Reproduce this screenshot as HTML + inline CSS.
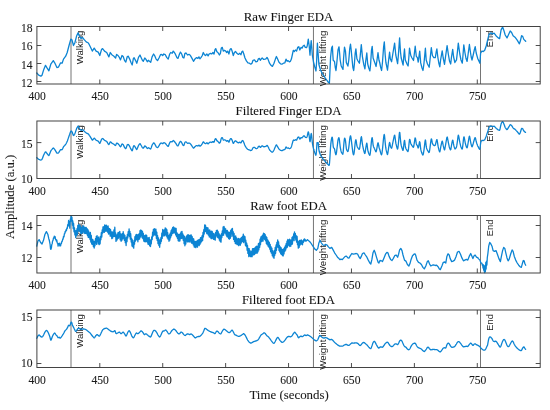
<!DOCTYPE html>
<html lang="en"><head><meta charset="utf-8"><title>EDA signals</title>
<style>html,body{margin:0;padding:0;background:#fff}svg{display:block}</style></head>
<body>
<svg width="550" height="410" viewBox="0 0 550 410">
<rect width="550" height="410" fill="#fff"/>
<g id="axes0">
<line x1="71.00" y1="26.5" x2="71.00" y2="84.0" stroke="#757575" stroke-width="1"/>
<line x1="313.45" y1="26.5" x2="313.45" y2="84.0" stroke="#757575" stroke-width="1"/>
<line x1="480.50" y1="26.5" x2="480.50" y2="84.0" stroke="#757575" stroke-width="1"/>
<g>
<text transform="translate(83.30,30.60) rotate(-90)" text-anchor="end" font-family="Liberation Sans, Arial, sans-serif" font-size="9.55" fill="#1a1a1a">Walking</text>
<text transform="translate(325.75,30.60) rotate(-90)" text-anchor="end" font-family="Liberation Sans, Arial, sans-serif" font-size="9.75" fill="#1a1a1a">Weight lifting</text>
<text transform="translate(492.80,30.60) rotate(-90)" text-anchor="end" font-family="Liberation Sans, Arial, sans-serif" font-size="9.3" fill="#1a1a1a">End</text>
</g>
<polyline points="36.8,73.0 38.7,75.2 40.9,76.2 42.0,75.2 43.8,69.4 45.5,65.3 47.0,67.9 48.9,70.8 50.8,64.2 53.3,60.6 54.7,62.8 56.9,67.6 58.4,67.2 60.6,62.8 62.1,63.2 63.5,59.1 65.7,56.2 67.2,52.5 68.9,46.0 70.8,39.1 71.9,39.8 73.5,45.5 74.8,43.0 76.7,35.7 78.1,32.8 79.6,36.4 81.1,38.6 82.5,37.5 84.0,39.4 86.2,41.9 88.4,43.0 90.3,46.7 92.3,51.1 94.2,48.1 96.1,51.1 98.2,52.1 99.8,55.5 101.5,49.6 102.6,48.6 104.5,51.1 106.7,52.5 108.9,56.9 110.3,52.5 111.8,54.7 114.0,56.2 114.1,56.5 115.6,58.0 116.6,54.4 118.0,55.5 119.5,57.7 120.5,59.9 122.0,55.5 123.2,56.5 124.6,60.6 125.8,62.0 127.3,56.5 128.3,56.2 129.7,59.1 130.9,62.3 132.2,65.0 133.4,58.4 134.1,57.7 135.6,60.6 136.8,63.2 138.5,57.4 140.0,55.0 141.2,57.7 142.5,60.6 143.3,61.3 144.8,58.0 145.8,59.1 147.3,61.8 148.3,60.3 149.5,61.3 150.7,62.3 152.1,56.9 153.6,54.0 154.6,55.5 156.1,59.1 157.5,60.6 159.0,58.0 160.5,54.7 161.5,54.4 162.7,55.5 163.8,54.0 165.3,54.7 166.7,57.4 168.2,59.1 169.7,54.0 170.7,52.5 172.2,53.3 173.2,51.1 174.4,52.5 175.5,54.4 177.0,57.7 178.0,58.4 179.5,54.0 180.5,52.1 181.7,54.0 182.8,57.4 183.9,58.0 184.9,53.3 186.1,53.0 187.5,55.0 189.0,54.4 190.0,55.0 190.6,55.9 192.0,58.4 193.5,61.3 194.9,59.1 196.4,57.7 197.9,58.4 198.9,56.9 199.9,58.8 201.1,57.4 202.3,55.5 203.3,52.5 204.5,54.7 205.5,55.5 206.9,54.0 208.1,55.9 209.1,54.0 210.6,53.3 211.8,54.0 212.8,52.5 214.0,54.0 215.0,49.6 215.7,48.6 216.9,51.8 217.9,52.5 219.4,55.0 220.4,53.3 221.3,48.1 222.3,47.4 223.3,51.1 224.5,50.3 225.7,51.1 226.7,52.5 227.7,51.1 228.9,54.0 230.0,49.6 231.1,48.6 232.1,51.1 233.3,55.5 234.4,52.5 235.5,51.5 236.9,53.3 238.4,54.4 239.8,53.3 240.9,54.7 242.0,51.5 242.8,51.1 243.8,54.0 245.0,58.0 246.4,60.9 247.9,62.8 249.4,63.2 250.8,64.2 252.0,63.2 253.0,60.3 254.5,59.9 255.9,61.8 257.4,61.3 258.4,58.8 259.3,58.4 260.3,60.3 261.3,58.8 262.2,58.0 263.7,59.4 265.0,59.1 265.9,58.8 267.0,57.4 268.0,59.1 269.5,63.2 271.0,65.3 272.4,66.4 273.9,63.5 275.4,59.1 276.4,56.5 277.6,59.1 279.0,62.3 280.5,63.8 281.9,64.2 283.4,63.2 284.9,62.8 286.0,59.1 287.1,61.3 288.1,60.6 289.3,61.8 290.4,61.3 291.4,59.1 292.5,54.0 293.3,50.3 294.4,51.5 295.4,50.0 296.6,51.1 297.7,47.4 298.8,46.7 299.8,50.0 301.0,47.4 302.1,48.1 303.1,46.0 304.2,45.2 305.3,47.4 306.5,47.7 307.2,46.0 308.3,39.1 309.2,46.0 310.0,55.2 310.6,47.0 311.2,40.6 311.8,47.0 312.3,55.0 313.5,62.0 314.8,67.0 316.0,71.0 316.6,62.0 317.0,52.0 317.4,43.2 318.0,52.0 318.9,64.5 320.5,70.0 322.5,74.0 326.0,79.0 328.3,82.3 329.4,83.3 330.0,70.0 330.6,57.0 331.6,48.0 332.4,46.2 332.8,54.0 333.2,60.3 334.5,61.5 335.2,67.0 336.0,70.5 336.8,63.0 338.0,50.0 339.0,46.8 339.6,53.0 340.1,59.5 341.2,66.0 343.0,69.4 343.6,58.0 344.5,47.1 345.5,51.5 346.3,62.5 347.9,66.1 348.8,60.0 349.8,48.0 350.5,44.2 351.2,50.0 351.8,56.6 352.9,67.6 353.7,70.5 354.4,64.0 355.2,53.0 355.9,48.9 356.9,58.8 358.0,61.0 359.4,63.2 360.2,56.0 361.3,44.6 362.4,56.6 363.8,64.7 364.9,68.9 365.6,62.0 366.8,53.0 367.7,64.0 368.8,68.0 369.9,70.9 370.6,64.0 371.5,50.0 372.2,46.4 373.1,58.0 375.0,63.2 376.1,66.5 377.0,60.0 378.0,52.6 379.0,60.3 379.7,62.5 380.6,67.0 381.6,70.5 382.5,62.0 383.6,47.0 384.3,41.8 385.2,55.0 385.9,62.5 387.5,70.2 388.4,62.0 389.6,52.2 390.3,58.8 391.6,61.7 392.8,54.0 394.6,43.1 395.8,55.0 397.6,63.6 398.4,55.0 399.6,37.8 400.5,52.0 401.2,58.0 403.1,65.1 403.8,56.0 404.5,49.0 405.3,60.0 406.8,63.6 408.1,66.0 408.8,58.0 409.5,48.2 410.8,55.5 412.0,58.0 413.5,60.5 414.3,54.0 415.2,46.2 416.3,56.3 417.4,57.7 418.2,62.1 418.9,57.0 419.7,51.1 420.7,62.9 422.0,68.0 423.0,70.5 423.9,64.0 425.4,48.2 426.2,60.0 427.5,64.0 429.2,67.2 430.0,60.0 431.3,47.7 432.4,55.5 433.8,57.7 435.3,57.6 436.2,52.0 436.9,49.0 437.8,57.0 438.8,63.0 439.8,66.8 440.6,60.0 442.2,50.8 443.2,58.0 444.5,64.3 445.5,57.0 447.1,45.6 448.3,54.0 449.5,61.0 450.7,64.0 451.5,57.0 452.7,49.4 453.6,57.0 454.9,62.5 456.5,59.9 457.4,52.0 458.3,43.1 459.8,54.0 461.0,60.0 462.3,63.2 463.0,55.0 463.8,44.9 465.0,53.0 466.0,58.5 467.1,61.4 468.0,55.0 469.4,44.5 470.4,52.0 471.2,57.0 472.0,60.0 473.2,55.0 474.3,50.0 475.2,46.7 476.2,53.0 477.7,58.4 479.0,61.3 479.9,63.2 480.6,53.3 481.8,51.1 483.3,51.5 484.7,50.3 486.2,46.0 487.6,40.1 489.1,34.2 490.9,32.8 492.3,34.0 494.1,33.1 496.0,35.7 498.2,37.9 499.6,38.6 501.1,29.9 502.6,27.1 503.7,29.9 505.2,35.0 507.0,37.9 508.7,34.2 510.2,31.0 511.6,32.5 513.1,35.7 515.0,37.2 517.2,40.1 519.4,43.8 520.4,40.8 521.6,35.7 522.7,36.4 523.8,39.4 525.7,41.3" fill="none" stroke="#0c84d3" stroke-width="1.3" stroke-linejoin="round" stroke-linecap="round"/>
<rect x="36.9" y="26.5" width="503.30" height="57.50" fill="none" stroke="#3a3a3a" stroke-width="0.95"/>
<text x="37.20" y="100.30" text-anchor="middle" font-family="Liberation Serif, 'Times New Roman', serif" stroke="#1a1a1a" stroke-width="0.08" font-size="11.6" fill="#1a1a1a">400</text>
<line x1="99.81" y1="84.0" x2="99.81" y2="79.50" stroke="#3a3a3a" stroke-width="0.9"/>
<line x1="99.81" y1="26.5" x2="99.81" y2="31.00" stroke="#3a3a3a" stroke-width="0.9"/>
<text x="100.11" y="100.30" text-anchor="middle" font-family="Liberation Serif, 'Times New Roman', serif" stroke="#1a1a1a" stroke-width="0.08" font-size="11.6" fill="#1a1a1a">450</text>
<line x1="162.73" y1="84.0" x2="162.73" y2="79.50" stroke="#3a3a3a" stroke-width="0.9"/>
<line x1="162.73" y1="26.5" x2="162.73" y2="31.00" stroke="#3a3a3a" stroke-width="0.9"/>
<text x="163.03" y="100.30" text-anchor="middle" font-family="Liberation Serif, 'Times New Roman', serif" stroke="#1a1a1a" stroke-width="0.08" font-size="11.6" fill="#1a1a1a">500</text>
<line x1="225.64" y1="84.0" x2="225.64" y2="79.50" stroke="#3a3a3a" stroke-width="0.9"/>
<line x1="225.64" y1="26.5" x2="225.64" y2="31.00" stroke="#3a3a3a" stroke-width="0.9"/>
<text x="225.94" y="100.30" text-anchor="middle" font-family="Liberation Serif, 'Times New Roman', serif" stroke="#1a1a1a" stroke-width="0.08" font-size="11.6" fill="#1a1a1a">550</text>
<line x1="288.55" y1="84.0" x2="288.55" y2="79.50" stroke="#3a3a3a" stroke-width="0.9"/>
<line x1="288.55" y1="26.5" x2="288.55" y2="31.00" stroke="#3a3a3a" stroke-width="0.9"/>
<text x="288.85" y="100.30" text-anchor="middle" font-family="Liberation Serif, 'Times New Roman', serif" stroke="#1a1a1a" stroke-width="0.08" font-size="11.6" fill="#1a1a1a">600</text>
<line x1="351.46" y1="84.0" x2="351.46" y2="79.50" stroke="#3a3a3a" stroke-width="0.9"/>
<line x1="351.46" y1="26.5" x2="351.46" y2="31.00" stroke="#3a3a3a" stroke-width="0.9"/>
<text x="351.76" y="100.30" text-anchor="middle" font-family="Liberation Serif, 'Times New Roman', serif" stroke="#1a1a1a" stroke-width="0.08" font-size="11.6" fill="#1a1a1a">650</text>
<line x1="414.38" y1="84.0" x2="414.38" y2="79.50" stroke="#3a3a3a" stroke-width="0.9"/>
<line x1="414.38" y1="26.5" x2="414.38" y2="31.00" stroke="#3a3a3a" stroke-width="0.9"/>
<text x="414.68" y="100.30" text-anchor="middle" font-family="Liberation Serif, 'Times New Roman', serif" stroke="#1a1a1a" stroke-width="0.08" font-size="11.6" fill="#1a1a1a">700</text>
<line x1="477.29" y1="84.0" x2="477.29" y2="79.50" stroke="#3a3a3a" stroke-width="0.9"/>
<line x1="477.29" y1="26.5" x2="477.29" y2="31.00" stroke="#3a3a3a" stroke-width="0.9"/>
<text x="477.59" y="100.30" text-anchor="middle" font-family="Liberation Serif, 'Times New Roman', serif" stroke="#1a1a1a" stroke-width="0.08" font-size="11.6" fill="#1a1a1a">750</text>
<line x1="36.9" y1="81.50" x2="41.40" y2="81.50" stroke="#3a3a3a" stroke-width="0.9"/>
<line x1="540.2" y1="81.50" x2="535.70" y2="81.50" stroke="#3a3a3a" stroke-width="0.9"/>
<text x="32.50" y="86.90" text-anchor="end" font-family="Liberation Serif, 'Times New Roman', serif" stroke="#1a1a1a" stroke-width="0.08" font-size="11.6" fill="#1a1a1a">12</text>
<line x1="36.9" y1="63.50" x2="41.40" y2="63.50" stroke="#3a3a3a" stroke-width="0.9"/>
<line x1="540.2" y1="63.50" x2="535.70" y2="63.50" stroke="#3a3a3a" stroke-width="0.9"/>
<text x="32.50" y="68.50" text-anchor="end" font-family="Liberation Serif, 'Times New Roman', serif" stroke="#1a1a1a" stroke-width="0.08" font-size="11.6" fill="#1a1a1a">14</text>
<line x1="36.9" y1="45.50" x2="41.40" y2="45.50" stroke="#3a3a3a" stroke-width="0.9"/>
<line x1="540.2" y1="45.50" x2="535.70" y2="45.50" stroke="#3a3a3a" stroke-width="0.9"/>
<text x="32.50" y="50.20" text-anchor="end" font-family="Liberation Serif, 'Times New Roman', serif" stroke="#1a1a1a" stroke-width="0.08" font-size="11.6" fill="#1a1a1a">16</text>
<text x="32.50" y="31.90" text-anchor="end" font-family="Liberation Serif, 'Times New Roman', serif" stroke="#1a1a1a" stroke-width="0.08" font-size="11.6" fill="#1a1a1a">18</text>
<text x="288.55" y="21.00" text-anchor="middle" font-family="Liberation Serif, 'Times New Roman', serif" stroke="#1a1a1a" stroke-width="0.08" font-size="12.8" fill="#111">Raw Finger EDA</text>
</g>
<g id="axes1">
<line x1="71.00" y1="121.0" x2="71.00" y2="178.5" stroke="#757575" stroke-width="1"/>
<line x1="313.45" y1="121.0" x2="313.45" y2="178.5" stroke="#757575" stroke-width="1"/>
<line x1="480.50" y1="121.0" x2="480.50" y2="178.5" stroke="#757575" stroke-width="1"/>
<g>
<text transform="translate(83.30,125.10) rotate(-90)" text-anchor="end" font-family="Liberation Sans, Arial, sans-serif" font-size="9.55" fill="#1a1a1a">Walking</text>
<text transform="translate(325.75,125.10) rotate(-90)" text-anchor="end" font-family="Liberation Sans, Arial, sans-serif" font-size="9.75" fill="#1a1a1a">Weight lifting</text>
<text transform="translate(492.80,125.10) rotate(-90)" text-anchor="end" font-family="Liberation Sans, Arial, sans-serif" font-size="9.3" fill="#1a1a1a">End</text>
</g>
<polyline points="36.8,157.7 37.1,157.9 37.4,158.2 37.7,158.4 38.0,158.7 38.3,159.0 38.6,159.2 38.9,159.4 39.2,159.5 39.5,159.6 39.8,159.8 40.1,159.9 40.4,160.0 40.7,160.1 41.0,160.0 41.3,159.9 41.6,159.7 41.9,159.4 42.2,158.9 42.5,158.2 42.8,157.4 43.1,156.6 43.4,155.8 43.7,155.1 44.0,154.4 44.3,153.8 44.6,153.3 44.9,152.7 45.2,152.2 45.5,151.8 45.8,151.9 46.1,152.2 46.4,152.7 46.7,153.1 47.0,153.5 47.3,153.9 47.6,154.3 47.9,154.6 48.2,155.0 48.5,155.3 48.8,155.6 49.1,155.3 49.4,154.6 49.7,153.8 50.0,153.0 50.3,152.2 50.6,151.4 50.9,150.7 51.2,150.3 51.5,149.9 51.8,149.6 52.1,149.2 52.4,148.9 52.7,148.5 53.0,148.2 53.3,148.0 53.6,148.1 53.9,148.5 54.2,148.8 54.5,149.2 54.8,149.6 55.1,150.1 55.4,150.6 55.7,151.1 56.0,151.6 56.3,152.2 56.6,152.7 56.9,153.1 57.2,153.2 57.5,153.2 57.8,153.1 58.1,153.1 58.4,152.9 58.7,152.6 59.0,152.1 59.3,151.6 59.6,151.2 59.9,150.7 60.2,150.2 60.5,149.8 60.8,149.6 61.1,149.6 61.4,149.7 61.7,149.8 62.0,149.7 62.3,149.4 62.6,148.8 62.9,148.1 63.2,147.5 63.5,146.9 63.8,146.4 64.1,146.1 64.4,145.8 64.7,145.5 65.0,145.1 65.3,144.8 65.6,144.5 65.9,144.0 66.2,143.5 66.5,142.9 66.8,142.3 67.1,141.6 67.4,140.9 67.7,140.0 68.0,139.1 68.3,138.3 68.6,137.4 68.9,136.5 69.2,135.6 69.5,134.8 69.8,133.9 70.1,133.0 70.4,132.2 70.7,131.4 71.0,131.1 71.3,131.1 71.6,131.2 71.9,131.6 72.2,132.2 72.5,133.1 72.8,133.9 73.1,134.8 73.4,135.4 73.7,135.5 74.0,135.2 74.3,134.7 74.6,134.3 74.9,133.6 75.2,132.8 75.5,131.9 75.8,131.0 76.1,130.1 76.4,129.2 76.7,128.4 77.0,127.8 77.3,127.3 77.6,126.8 77.9,126.3 78.2,126.1 78.5,126.5 78.8,127.1 79.1,127.7 79.4,128.2 79.7,128.8 80.0,129.2 80.3,129.5 80.6,129.9 80.9,130.2 81.2,130.3 81.5,130.2 81.8,130.1 82.1,129.9 82.4,129.7 82.7,129.8 83.0,130.0 83.3,130.3 83.6,130.6 83.9,130.9 84.2,131.2 84.5,131.5 84.8,131.7 85.1,132.0 85.4,132.3 85.7,132.5 86.0,132.8 86.3,133.0 86.6,133.2 86.9,133.3 87.2,133.4 87.5,133.6 87.8,133.7 88.1,133.8 88.4,134.0 88.7,134.4 89.0,134.8 89.3,135.3 89.6,135.7 89.9,136.2 90.2,136.6 90.5,137.1 90.8,137.6 91.1,138.1 91.4,138.6 91.7,139.2 92.0,139.7 92.3,140.0 92.6,140.0 92.9,139.7 93.2,139.3 93.5,138.9 93.8,138.6 94.1,138.3 94.4,138.2 94.7,138.5 95.0,138.9 95.3,139.2 95.6,139.6 95.9,140.0 96.2,140.2 96.5,140.4 96.8,140.5 97.1,140.7 97.4,140.8 97.7,140.9 98.0,141.0 98.3,141.3 98.6,141.7 98.9,142.2 99.2,142.7 99.5,143.2 99.8,143.4 100.1,143.0 100.4,142.3 100.7,141.5 101.0,140.7 101.3,139.9 101.6,139.3 101.9,138.9 102.2,138.7 102.5,138.5 102.8,138.6 103.1,138.8 103.4,139.1 103.7,139.5 104.0,139.8 104.3,140.1 104.6,140.3 104.9,140.5 105.2,140.7 105.5,140.8 105.8,141.0 106.1,141.1 106.4,141.3 106.7,141.5 107.0,141.9 107.3,142.4 107.6,142.9 107.9,143.3 108.2,143.8 108.5,144.3 108.8,144.6 109.1,144.3 109.4,143.7 109.7,143.0 110.0,142.3 110.3,141.8 110.6,141.8 110.9,142.1 111.2,142.4 111.5,142.8 111.8,143.1 112.1,143.3 112.4,143.5 112.7,143.6 113.0,143.8 113.3,144.0 113.6,144.1 113.9,144.3 114.2,144.6 114.5,144.9 114.8,145.1 115.1,145.3 115.4,145.5 115.7,145.3 116.0,144.6 116.3,143.8 116.6,143.2 116.9,143.1 117.2,143.3 117.5,143.4 117.8,143.6 118.1,143.8 118.4,144.1 118.7,144.5 119.0,144.8 119.3,145.2 119.6,145.6 119.9,146.1 120.2,146.6 120.5,146.9 120.8,146.6 121.1,146.0 121.4,145.3 121.7,144.6 122.0,144.0 122.3,144.0 122.6,144.1 122.9,144.4 123.2,144.7 123.5,145.2 123.8,145.9 124.1,146.5 124.4,147.2 124.7,147.7 125.0,148.1 125.3,148.4 125.6,148.7 125.9,148.5 126.2,147.9 126.5,147.0 126.8,146.1 127.1,145.2 127.4,144.7 127.7,144.5 128.0,144.4 128.3,144.5 128.6,144.8 128.9,145.2 129.2,145.7 129.5,146.2 129.8,146.7 130.1,147.3 130.4,148.0 130.7,148.6 131.0,149.2 131.3,149.7 131.6,150.2 131.9,150.7 132.2,150.8 132.5,150.2 132.8,148.9 133.1,147.6 133.4,146.5 133.7,145.9 134.0,145.7 134.3,145.8 134.6,146.2 134.9,146.6 135.2,147.1 135.5,147.6 135.8,148.1 136.1,148.6 136.4,149.2 136.7,149.5 137.0,149.3 137.3,148.6 137.6,147.8 137.9,147.0 138.2,146.2 138.5,145.5 138.8,145.0 139.1,144.6 139.4,144.2 139.7,143.8 140.0,143.7 140.3,143.9 140.6,144.4 140.9,145.0 141.2,145.5 141.5,146.0 141.8,146.5 142.1,147.1 142.4,147.6 142.7,147.9 143.0,148.1 143.3,148.2 143.6,147.9 143.9,147.5 144.2,146.9 144.5,146.4 144.8,146.0 145.1,146.0 145.4,146.2 145.7,146.5 146.0,146.8 146.3,147.2 146.6,147.7 146.9,148.1 147.2,148.4 147.5,148.5 147.8,148.2 148.1,147.9 148.4,147.7 148.7,147.8 149.0,148.0 149.3,148.2 149.6,148.4 149.9,148.6 150.2,148.8 150.5,149.0 150.8,148.7 151.1,148.0 151.4,147.2 151.7,146.3 152.0,145.4 152.3,144.8 152.6,144.2 152.9,143.8 153.2,143.3 153.5,142.9 153.8,142.9 154.1,143.1 154.4,143.5 154.7,143.9 155.0,144.4 155.3,145.0 155.6,145.6 155.9,146.2 156.2,146.7 156.5,147.0 156.8,147.2 157.1,147.4 157.4,147.6 157.7,147.5 158.0,147.2 158.3,146.8 158.6,146.3 158.9,145.9 159.2,145.4 159.5,144.9 159.8,144.4 160.1,143.9 160.4,143.4 160.7,143.2 161.0,143.1 161.3,143.0 161.6,143.1 161.9,143.2 162.2,143.4 162.5,143.6 162.8,143.6 163.1,143.4 163.4,143.1 163.7,142.8 164.0,142.7 164.3,142.8 164.6,142.9 164.9,143.0 165.2,143.2 165.5,143.5 165.8,143.9 166.1,144.3 166.4,144.7 166.7,145.1 167.0,145.4 167.3,145.7 167.6,146.0 167.9,146.3 168.2,146.4 168.5,145.9 168.8,145.1 169.1,144.3 169.4,143.5 169.7,142.8 170.0,142.3 170.3,141.9 170.6,141.7 170.9,141.6 171.2,141.6 171.5,141.8 171.8,141.9 172.1,141.9 172.4,141.6 172.7,141.2 173.0,140.7 173.3,140.5 173.6,140.7 173.9,141.0 174.2,141.3 174.5,141.6 174.8,142.0 175.1,142.4 175.4,142.8 175.7,143.2 176.0,143.7 176.3,144.2 176.6,144.7 176.9,145.2 177.2,145.6 177.5,145.8 177.8,145.9 178.1,145.8 178.4,145.2 178.7,144.5 179.0,143.8 179.3,143.1 179.6,142.5 179.9,142.0 180.2,141.6 180.5,141.3 180.8,141.5 181.1,141.8 181.4,142.2 181.7,142.7 182.0,143.3 182.3,143.9 182.6,144.6 182.9,145.1 183.2,145.4 183.5,145.5 183.8,145.5 184.1,144.9 184.4,143.9 184.7,142.9 185.0,142.2 185.3,142.0 185.6,141.9 185.9,141.9 186.2,142.0 186.5,142.2 186.8,142.6 187.1,142.9 187.4,143.2 187.7,143.3 188.0,143.3 188.3,143.2 188.6,143.1 188.9,143.0 189.2,143.1 189.5,143.2 189.8,143.3 190.1,143.5 190.4,143.9 190.7,144.2 191.0,144.6 191.3,145.0 191.6,145.4 191.9,145.9 192.2,146.3 192.5,146.8 192.8,147.2 193.1,147.7 193.4,148.1 193.7,148.1 194.0,147.8 194.3,147.5 194.6,147.1 194.9,146.8 195.2,146.5 195.5,146.2 195.8,146.0 196.1,145.8 196.4,145.6 196.7,145.6 197.0,145.7 197.3,145.8 197.6,145.9 197.9,146.0 198.2,145.7 198.5,145.4 198.8,145.2 199.1,145.2 199.4,145.6 199.7,146.0 200.0,146.2 200.3,146.1 200.6,145.8 200.9,145.5 201.2,145.2 201.5,144.8 201.8,144.4 202.1,144.0 202.4,143.5 202.7,142.9 203.0,142.2 203.3,141.8 203.6,141.9 203.9,142.3 204.2,142.7 204.5,143.1 204.8,143.4 205.1,143.5 205.4,143.6 205.7,143.6 206.0,143.4 206.3,143.1 206.6,142.9 206.9,142.8 207.2,142.9 207.5,143.3 207.8,143.7 208.1,143.9 208.4,143.7 208.7,143.3 209.0,142.9 209.3,142.6 209.6,142.4 209.9,142.3 210.2,142.2 210.5,142.1 210.8,142.1 211.1,142.3 211.4,142.4 211.7,142.5 212.0,142.3 212.3,142.1 212.6,141.7 212.9,141.6 213.2,141.8 213.5,142.1 213.8,142.3 214.1,142.1 214.4,141.3 214.7,140.2 215.0,139.4 215.3,138.9 215.6,138.6 215.9,138.8 216.2,139.3 216.5,139.9 216.8,140.5 217.1,140.9 217.4,141.1 217.7,141.3 218.0,141.6 218.3,141.9 218.6,142.3 218.9,142.7 219.2,143.1 219.5,143.2 219.8,142.9 220.1,142.5 220.4,141.9 220.7,140.8 221.0,139.4 221.3,138.3 221.6,137.8 221.9,137.7 222.2,137.6 222.5,138.0 222.8,138.7 223.1,139.5 223.4,140.1 223.7,140.1 224.0,140.0 224.3,139.9 224.6,139.8 224.9,139.9 225.2,140.0 225.5,140.2 225.8,140.4 226.1,140.7 226.4,141.1 226.7,141.3 227.0,141.1 227.3,140.8 227.6,140.6 227.9,140.7 228.2,141.2 228.5,141.8 228.8,142.1 229.1,141.9 229.4,141.2 229.7,140.3 230.0,139.5 230.3,139.0 230.6,138.7 230.9,138.6 231.2,138.6 231.5,139.1 231.8,139.6 232.1,140.3 232.4,141.1 232.7,142.0 233.0,142.8 233.3,143.4 233.6,143.2 233.9,142.6 234.2,142.0 234.5,141.5 234.8,141.2 235.1,141.0 235.4,140.8 235.7,140.9 236.0,141.1 236.3,141.4 236.6,141.7 236.9,141.9 237.2,142.2 237.5,142.4 237.8,142.6 238.1,142.7 238.4,142.8 238.7,142.8 239.0,142.6 239.3,142.4 239.6,142.2 239.9,142.2 240.2,142.4 240.5,142.7 240.8,142.9 241.1,142.7 241.4,142.1 241.7,141.5 242.0,140.9 242.3,140.6 242.6,140.5 242.9,140.6 243.2,141.2 243.5,141.8 243.8,142.5 244.1,143.3 244.4,144.1 244.7,144.9 245.0,145.6 245.3,146.2 245.6,146.7 245.9,147.1 246.2,147.6 246.5,148.0 246.8,148.4 247.1,148.7 247.4,149.0 247.7,149.3 248.0,149.5 248.3,149.6 248.6,149.7 248.9,149.8 249.2,149.8 249.5,150.0 249.8,150.1 250.1,150.3 250.4,150.4 250.7,150.6 251.0,150.5 251.3,150.4 251.6,150.2 251.9,149.9 252.2,149.4 252.5,148.8 252.8,148.2 253.1,147.7 253.4,147.5 253.7,147.4 254.0,147.3 254.3,147.3 254.6,147.4 254.9,147.6 255.2,147.9 255.5,148.2 255.8,148.5 256.1,148.6 256.4,148.6 256.7,148.6 257.0,148.5 257.3,148.3 257.6,148.0 257.9,147.5 258.2,146.9 258.5,146.5 258.8,146.3 259.1,146.2 259.4,146.3 259.7,146.6 260.0,147.0 260.3,147.3 260.6,147.3 260.9,147.0 261.2,146.6 261.5,146.3 261.8,146.1 262.1,145.9 262.4,145.9 262.7,146.1 263.0,146.3 263.3,146.5 263.6,146.7 263.9,146.8 264.2,146.8 264.5,146.7 264.8,146.7 265.1,146.6 265.4,146.5 265.7,146.4 266.0,146.3 266.3,146.0 266.6,145.7 266.9,145.5 267.2,145.5 267.5,145.8 267.8,146.3 268.1,146.7 268.4,147.3 268.7,148.0 269.0,148.7 269.3,149.3 269.6,149.9 269.9,150.3 270.2,150.6 270.5,150.9 270.8,151.2 271.1,151.5 271.4,151.7 271.7,151.9 272.0,152.1 272.3,152.2 272.6,152.1 272.9,151.7 273.2,151.3 273.5,150.8 273.8,150.3 274.1,149.7 274.4,149.0 274.7,148.3 275.0,147.6 275.3,146.9 275.6,146.3 275.9,145.6 276.2,145.1 276.5,144.9 276.8,145.2 277.1,145.8 277.4,146.3 277.7,146.8 278.0,147.3 278.3,147.9 278.6,148.4 278.9,148.9 279.2,149.3 279.5,149.5 279.8,149.8 280.1,150.0 280.4,150.2 280.7,150.4 281.0,150.5 281.3,150.5 281.6,150.6 281.9,150.6 282.2,150.6 282.5,150.4 282.8,150.2 283.1,150.1 283.4,149.9 283.7,149.8 284.0,149.7 284.3,149.7 284.6,149.6 284.9,149.4 285.2,148.8 285.5,148.1 285.8,147.4 286.1,147.0 286.4,147.2 286.7,147.7 287.0,148.1 287.3,148.2 287.6,148.1 287.9,148.0 288.2,147.9 288.5,148.1 288.8,148.3 289.1,148.5 289.4,148.6 289.7,148.6 290.0,148.5 290.3,148.4 290.6,148.1 290.9,147.6 291.2,147.1 291.5,146.4 291.8,145.4 292.1,144.2 292.4,143.1 292.7,142.0 293.0,141.0 293.3,140.2 293.6,140.0 293.9,140.2 294.2,140.4 294.5,140.4 294.8,140.2 295.1,139.9 295.4,139.7 295.7,139.7 296.0,139.9 296.3,140.1 296.6,140.1 296.9,139.6 297.2,138.8 297.5,138.1 297.8,137.5 298.1,137.2 298.4,137.1 298.7,137.0 299.0,137.4 299.3,138.1 299.6,138.8 299.9,139.1 300.2,138.8 300.5,138.3 300.8,137.8 301.1,137.6 301.4,137.6 301.7,137.8 302.0,137.8 302.3,137.7 302.6,137.3 302.9,136.7 303.2,136.3 303.5,136.1 303.8,135.9 304.1,135.8 304.4,136.0 304.7,136.4 305.0,136.8 305.3,137.2 305.6,137.4 305.9,137.5 306.2,137.6 306.5,137.5 306.8,137.1 307.1,136.5 307.4,135.4 307.7,134.0 308.0,132.6 308.3,131.8 308.6,132.5 308.9,134.2 309.2,136.2 309.5,138.6 309.8,141.1 310.1,141.7 310.4,139.8 310.7,136.8 311.0,134.3 311.3,133.5 311.6,135.1 311.9,138.0 312.2,141.3 312.5,143.8 312.8,145.5 313.1,146.9 313.4,148.2 313.7,149.3 314.0,150.3 314.3,151.2 314.6,152.1 314.9,153.0 315.2,153.8 315.5,154.6 315.8,155.2 316.1,154.5 316.4,151.7 316.7,147.3 317.0,142.6 317.3,142.6 317.6,142.6 317.9,142.6 318.2,142.7 318.5,146.0 318.8,149.0 319.1,151.0 319.4,152.1 319.7,152.9 320.0,153.7 320.3,154.5 320.6,155.2 320.9,155.8 321.2,156.3 321.5,156.7 321.8,157.2 322.1,157.7 322.4,158.1 322.7,158.5 323.0,158.9 323.3,159.2 323.6,159.6 323.9,159.9 324.2,160.2 324.5,160.6 324.8,160.9 325.1,161.3 325.4,161.6 325.7,161.9 326.0,162.3 326.3,162.6 326.6,163.0 326.9,163.3 327.2,163.6 327.5,164.0 327.8,164.3 328.1,164.6 328.4,164.9 328.7,165.2 329.0,165.4 329.3,164.9 329.6,162.3 329.9,157.8 330.2,152.6 330.5,147.8 330.8,144.2 331.1,141.7 331.4,139.7 331.7,138.1 332.0,137.2 332.3,137.4 332.6,139.4 332.9,143.1 333.2,146.3 333.5,147.6 333.8,148.0 334.1,148.2 334.4,148.6 334.7,149.7 335.0,151.3 335.3,152.9 335.6,154.1 335.9,154.7 336.2,154.1 336.5,152.3 336.8,150.0 337.1,147.5 337.4,145.0 337.7,142.4 338.0,140.2 338.3,138.9 338.6,138.0 338.9,137.7 339.2,138.6 339.5,140.7 339.8,143.5 340.1,146.1 340.4,148.1 340.7,149.5 341.0,150.9 341.3,152.0 341.6,152.6 341.9,153.0 342.2,153.5 342.5,153.9 342.8,154.2 343.1,152.9 343.4,149.5 343.7,145.6 344.0,142.4 344.3,139.7 344.6,138.2 344.9,138.4 345.2,139.4 345.5,140.9 345.8,143.5 346.1,146.5 346.4,148.9 346.7,149.9 347.0,150.5 347.3,151.0 347.6,151.5 347.9,151.6 348.2,150.7 348.5,149.2 348.8,147.3 349.1,144.9 349.4,142.1 349.7,139.4 350.0,137.4 350.3,136.1 350.6,135.9 350.9,137.2 351.2,139.3 351.5,141.7 351.8,144.2 352.1,146.7 352.4,149.0 352.7,151.3 353.0,153.2 353.3,154.3 353.6,154.8 353.9,154.1 354.2,152.2 354.5,149.7 354.8,146.6 355.1,143.6 355.4,141.3 355.7,139.9 356.0,139.8 356.3,141.4 356.6,143.7 356.9,145.6 357.2,146.7 357.5,147.3 357.8,147.7 358.1,148.2 358.4,148.6 358.7,148.9 359.0,149.3 359.3,149.4 359.6,148.5 359.9,146.6 360.2,144.4 360.5,142.1 360.8,139.6 361.1,137.4 361.4,136.7 361.7,138.2 362.0,140.8 362.3,143.3 362.6,145.2 362.9,146.7 363.2,148.1 363.5,149.5 363.8,150.7 364.1,151.8 364.4,152.7 364.7,153.5 365.0,153.3 365.3,151.6 365.6,149.4 365.9,147.4 366.2,145.6 366.5,143.9 366.8,143.1 367.1,144.5 367.4,147.2 367.7,149.6 368.0,151.1 368.3,152.1 368.6,152.9 368.9,153.7 369.2,154.4 369.5,155.0 369.8,155.3 370.1,154.4 370.4,152.3 370.7,149.5 371.0,146.1 371.3,142.6 371.6,139.7 371.9,138.0 372.2,137.7 372.5,139.4 372.8,142.3 373.1,144.8 373.4,146.2 373.7,147.0 374.0,147.6 374.3,148.3 374.6,148.9 374.9,149.6 375.2,150.2 375.5,150.9 375.8,151.7 376.1,151.8 376.4,150.9 376.7,149.3 377.0,147.6 377.3,145.8 377.6,144.1 377.9,142.8 378.2,142.9 378.5,144.3 378.8,146.0 379.1,147.5 379.4,148.5 379.7,149.3 380.0,150.3 380.3,151.5 380.6,152.6 380.9,153.6 381.2,154.4 381.5,154.8 381.8,154.1 382.1,152.2 382.4,149.9 382.7,147.1 383.0,144.0 383.3,140.8 383.6,137.9 383.9,135.6 384.2,134.5 384.5,135.4 384.8,138.2 385.1,141.6 385.4,144.6 385.7,147.2 386.0,149.2 386.3,150.7 386.6,151.8 386.9,152.9 387.2,154.1 387.5,154.5 387.8,153.4 388.1,151.4 388.4,149.3 388.7,147.3 389.0,145.3 389.3,143.4 389.6,142.4 389.9,143.2 390.2,145.1 390.5,146.5 390.8,147.2 391.1,147.7 391.4,148.2 391.7,148.0 392.0,146.9 392.3,145.4 392.6,143.8 392.9,142.4 393.2,140.9 393.5,139.5 393.8,138.0 394.1,136.6 394.4,135.4 394.7,135.2 395.0,136.8 395.3,139.1 395.6,141.4 395.9,143.4 396.2,144.7 396.5,145.9 396.8,147.0 397.1,148.1 397.4,149.1 397.7,149.0 398.0,147.2 398.3,144.5 398.6,141.5 398.9,138.2 399.2,134.9 399.5,132.4 399.8,132.6 400.1,135.5 400.4,139.0 400.7,141.9 401.0,144.1 401.3,145.7 401.6,146.8 401.9,147.7 402.2,148.6 402.5,149.5 402.8,150.3 403.1,150.4 403.4,148.6 403.7,145.8 404.0,143.0 404.3,140.9 404.6,140.4 404.9,142.5 405.2,145.4 405.5,147.3 405.8,148.2 406.1,148.8 406.4,149.3 406.7,149.9 407.0,150.4 407.3,150.8 407.6,151.3 407.9,151.6 408.2,150.9 408.5,148.9 408.8,146.0 409.1,142.9 409.4,140.2 409.7,139.3 410.0,140.0 410.3,141.4 410.6,142.7 410.9,143.7 411.2,144.4 411.5,144.9 411.8,145.4 412.1,145.8 412.4,146.2 412.7,146.6 413.0,147.0 413.3,147.3 413.6,146.9 413.9,145.5 414.2,143.5 414.5,141.5 414.8,139.5 415.1,138.0 415.4,138.1 415.7,139.7 416.0,141.9 416.3,143.7 416.6,144.6 416.9,145.0 417.2,145.3 417.5,146.0 417.8,147.1 418.1,148.0 418.4,147.7 418.7,146.4 419.0,144.6 419.3,142.9 419.6,141.7 419.9,142.3 420.2,144.6 420.5,147.3 420.8,149.4 421.1,150.7 421.4,151.7 421.7,152.6 422.0,153.4 422.3,154.1 422.6,154.7 422.9,155.0 423.2,154.5 423.5,153.0 423.8,151.2 424.1,149.1 424.4,146.7 424.7,144.2 425.0,141.7 425.3,140.0 425.6,140.6 425.9,143.3 426.2,146.2 426.5,147.9 426.8,148.7 427.1,149.4 427.4,150.1 427.7,150.7 428.0,151.2 428.3,151.6 428.6,152.1 428.9,152.5 429.2,152.4 429.5,151.1 429.8,149.1 430.1,146.9 430.4,144.7 430.7,142.4 431.0,140.2 431.3,138.8 431.6,139.2 431.9,140.7 432.2,142.4 432.5,143.6 432.8,144.2 433.1,144.6 433.4,145.0 433.7,145.3 434.0,145.5 434.3,145.5 434.6,145.5 434.9,145.5 435.2,145.3 435.5,144.5 435.8,143.2 436.1,141.8 436.4,140.6 436.7,139.6 437.0,139.7 437.3,141.2 437.6,143.2 437.9,145.1 438.2,146.7 438.5,148.1 438.8,149.4 439.1,150.5 439.4,151.4 439.7,151.9 440.0,151.3 440.3,149.7 440.6,147.8 440.9,146.2 441.2,144.8 441.5,143.5 441.8,142.1 442.1,141.1 442.4,141.3 442.7,142.7 443.0,144.3 443.3,145.9 443.6,147.1 443.9,148.3 444.2,149.4 444.5,149.9 444.8,149.2 445.1,147.5 445.4,145.8 445.7,144.1 446.0,142.4 446.3,140.7 446.6,139.0 446.9,137.5 447.2,137.0 447.5,137.9 447.8,139.6 448.1,141.2 448.4,142.8 448.7,144.2 449.0,145.6 449.3,147.0 449.6,148.1 449.9,148.8 450.2,149.4 450.5,149.9 450.8,149.6 451.1,148.0 451.4,146.0 451.7,144.3 452.0,142.7 452.3,141.2 452.6,140.2 452.9,140.4 453.2,142.0 453.5,143.9 453.8,145.4 454.1,146.5 454.4,147.5 454.7,148.4 455.0,149.0 455.3,148.9 455.6,148.5 455.9,148.1 456.2,147.7 456.5,147.0 456.8,145.4 457.1,143.4 457.4,141.3 457.7,139.0 458.0,136.7 458.3,135.2 458.6,135.6 458.9,137.2 459.2,138.9 459.5,140.6 459.8,142.2 460.1,143.6 460.4,144.8 460.7,146.0 461.0,147.0 461.3,147.8 461.6,148.4 461.9,149.0 462.2,149.1 462.5,148.0 462.8,145.6 463.1,142.8 463.4,139.9 463.7,137.5 464.0,136.8 464.3,137.8 464.6,139.4 464.9,141.0 465.2,142.5 465.5,143.8 465.8,145.1 466.1,146.1 466.4,146.9 466.7,147.5 467.0,147.8 467.3,147.3 467.6,145.9 467.9,144.2 468.2,142.5 468.5,140.7 468.8,138.9 469.1,137.2 469.4,136.1 469.7,136.8 470.0,138.4 470.3,140.1 470.6,141.8 470.9,143.3 471.2,144.6 471.5,145.7 471.8,146.5 472.1,146.8 472.4,146.2 472.7,145.2 473.0,144.2 473.3,143.2 473.6,142.1 473.9,141.0 474.2,140.0 474.5,139.0 474.8,138.1 475.1,137.6 475.4,137.9 475.7,139.1 476.0,140.6 476.3,141.8 476.6,142.8 476.9,143.7 477.2,144.5 477.5,145.4 477.8,146.1 478.1,146.7 478.4,147.2 478.7,147.8 479.0,148.3 479.3,148.8 479.6,149.3 479.9,149.0 480.2,147.0 480.5,144.2 480.8,142.2 481.1,141.4 481.4,140.9 481.7,140.6 482.0,140.4 482.3,140.4 482.6,140.5 482.9,140.5 483.2,140.6 483.5,140.5 483.8,140.3 484.1,140.1 484.4,140.0 484.7,139.7 485.0,139.1 485.3,138.5 485.6,137.7 485.9,137.0 486.2,136.3 486.5,135.4 486.8,134.4 487.1,133.5 487.4,132.6 487.7,131.6 488.0,130.7 488.3,129.7 488.6,128.8 488.9,127.8 489.2,127.1 489.5,126.8 489.8,126.6 490.1,126.4 490.4,126.2 490.7,126.0 491.0,126.0 491.3,126.1 491.6,126.3 491.9,126.5 492.2,126.6 492.5,126.7 492.8,126.6 493.1,126.5 493.4,126.4 493.7,126.3 494.0,126.2 494.3,126.3 494.6,126.6 494.9,126.9 495.2,127.3 495.5,127.6 495.8,127.9 496.1,128.2 496.4,128.5 496.7,128.7 497.0,128.9 497.3,129.2 497.6,129.4 497.9,129.7 498.2,129.9 498.5,130.0 498.8,130.1 499.1,130.3 499.4,130.4 499.7,130.0 500.0,129.0 500.3,127.6 500.6,126.1 500.9,124.8 501.2,123.7 501.5,123.0 501.8,122.5 502.1,122.0 502.4,121.7 502.7,121.6 503.0,122.0 503.3,122.6 503.6,123.2 503.9,123.9 504.2,124.7 504.5,125.6 504.8,126.4 505.1,127.2 505.4,127.8 505.7,128.2 506.0,128.6 506.3,129.0 506.6,129.4 506.9,129.6 507.2,129.5 507.5,129.1 507.8,128.6 508.1,128.1 508.4,127.6 508.7,127.1 509.0,126.6 509.3,126.1 509.6,125.5 509.9,125.0 510.2,124.7 510.5,124.7 510.8,124.9 511.1,125.2 511.4,125.4 511.7,125.7 512.0,126.2 512.3,126.7 512.6,127.2 512.9,127.7 513.2,128.1 513.5,128.4 513.8,128.6 514.1,128.8 514.4,128.9 514.7,129.1 515.0,129.3 515.3,129.6 515.6,129.9 515.9,130.2 516.2,130.6 516.5,130.9 516.8,131.2 517.1,131.5 517.4,131.9 517.7,132.3 518.0,132.6 518.3,133.0 518.6,133.4 518.9,133.8 519.2,134.2 519.5,134.2 519.8,133.7 520.1,133.0 520.4,132.3 520.7,131.3 521.0,130.3 521.3,129.3 521.6,128.5 521.9,128.3 522.2,128.5 522.5,128.6 522.8,128.9 523.1,129.4 523.4,130.1 523.7,130.7 524.0,131.2 524.3,131.4 524.6,131.7 524.9,131.9 525.2,132.2 525.5,132.4" fill="none" stroke="#0c84d3" stroke-width="1.3" stroke-linejoin="round" stroke-linecap="round"/>
<rect x="36.9" y="121.0" width="503.30" height="57.50" fill="none" stroke="#3a3a3a" stroke-width="0.95"/>
<text x="37.20" y="194.80" text-anchor="middle" font-family="Liberation Serif, 'Times New Roman', serif" stroke="#1a1a1a" stroke-width="0.08" font-size="11.6" fill="#1a1a1a">400</text>
<line x1="99.81" y1="178.5" x2="99.81" y2="174.00" stroke="#3a3a3a" stroke-width="0.9"/>
<line x1="99.81" y1="121.0" x2="99.81" y2="125.50" stroke="#3a3a3a" stroke-width="0.9"/>
<text x="100.11" y="194.80" text-anchor="middle" font-family="Liberation Serif, 'Times New Roman', serif" stroke="#1a1a1a" stroke-width="0.08" font-size="11.6" fill="#1a1a1a">450</text>
<line x1="162.73" y1="178.5" x2="162.73" y2="174.00" stroke="#3a3a3a" stroke-width="0.9"/>
<line x1="162.73" y1="121.0" x2="162.73" y2="125.50" stroke="#3a3a3a" stroke-width="0.9"/>
<text x="163.03" y="194.80" text-anchor="middle" font-family="Liberation Serif, 'Times New Roman', serif" stroke="#1a1a1a" stroke-width="0.08" font-size="11.6" fill="#1a1a1a">500</text>
<line x1="225.64" y1="178.5" x2="225.64" y2="174.00" stroke="#3a3a3a" stroke-width="0.9"/>
<line x1="225.64" y1="121.0" x2="225.64" y2="125.50" stroke="#3a3a3a" stroke-width="0.9"/>
<text x="225.94" y="194.80" text-anchor="middle" font-family="Liberation Serif, 'Times New Roman', serif" stroke="#1a1a1a" stroke-width="0.08" font-size="11.6" fill="#1a1a1a">550</text>
<line x1="288.55" y1="178.5" x2="288.55" y2="174.00" stroke="#3a3a3a" stroke-width="0.9"/>
<line x1="288.55" y1="121.0" x2="288.55" y2="125.50" stroke="#3a3a3a" stroke-width="0.9"/>
<text x="288.85" y="194.80" text-anchor="middle" font-family="Liberation Serif, 'Times New Roman', serif" stroke="#1a1a1a" stroke-width="0.08" font-size="11.6" fill="#1a1a1a">600</text>
<line x1="351.46" y1="178.5" x2="351.46" y2="174.00" stroke="#3a3a3a" stroke-width="0.9"/>
<line x1="351.46" y1="121.0" x2="351.46" y2="125.50" stroke="#3a3a3a" stroke-width="0.9"/>
<text x="351.76" y="194.80" text-anchor="middle" font-family="Liberation Serif, 'Times New Roman', serif" stroke="#1a1a1a" stroke-width="0.08" font-size="11.6" fill="#1a1a1a">650</text>
<line x1="414.38" y1="178.5" x2="414.38" y2="174.00" stroke="#3a3a3a" stroke-width="0.9"/>
<line x1="414.38" y1="121.0" x2="414.38" y2="125.50" stroke="#3a3a3a" stroke-width="0.9"/>
<text x="414.68" y="194.80" text-anchor="middle" font-family="Liberation Serif, 'Times New Roman', serif" stroke="#1a1a1a" stroke-width="0.08" font-size="11.6" fill="#1a1a1a">700</text>
<line x1="477.29" y1="178.5" x2="477.29" y2="174.00" stroke="#3a3a3a" stroke-width="0.9"/>
<line x1="477.29" y1="121.0" x2="477.29" y2="125.50" stroke="#3a3a3a" stroke-width="0.9"/>
<text x="477.59" y="194.80" text-anchor="middle" font-family="Liberation Serif, 'Times New Roman', serif" stroke="#1a1a1a" stroke-width="0.08" font-size="11.6" fill="#1a1a1a">750</text>
<text x="32.50" y="183.10" text-anchor="end" font-family="Liberation Serif, 'Times New Roman', serif" stroke="#1a1a1a" stroke-width="0.08" font-size="11.6" fill="#1a1a1a">10</text>
<line x1="36.9" y1="142.60" x2="41.40" y2="142.60" stroke="#3a3a3a" stroke-width="0.9"/>
<line x1="540.2" y1="142.60" x2="535.70" y2="142.60" stroke="#3a3a3a" stroke-width="0.9"/>
<text x="32.50" y="147.70" text-anchor="end" font-family="Liberation Serif, 'Times New Roman', serif" stroke="#1a1a1a" stroke-width="0.08" font-size="11.6" fill="#1a1a1a">15</text>
<text x="288.55" y="115.20" text-anchor="middle" font-family="Liberation Serif, 'Times New Roman', serif" stroke="#1a1a1a" stroke-width="0.08" font-size="12.8" fill="#111">Filtered Finger EDA</text>
</g>
<g id="axes2">
<line x1="71.00" y1="215.5" x2="71.00" y2="273.0" stroke="#757575" stroke-width="1"/>
<line x1="313.45" y1="215.5" x2="313.45" y2="273.0" stroke="#757575" stroke-width="1"/>
<line x1="480.50" y1="215.5" x2="480.50" y2="273.0" stroke="#757575" stroke-width="1"/>
<g>
<text transform="translate(83.30,219.60) rotate(-90)" text-anchor="end" font-family="Liberation Sans, Arial, sans-serif" font-size="9.55" fill="#1a1a1a">Walking</text>
<text transform="translate(325.75,219.60) rotate(-90)" text-anchor="end" font-family="Liberation Sans, Arial, sans-serif" font-size="9.75" fill="#1a1a1a">Weight lifting</text>
<text transform="translate(492.80,219.60) rotate(-90)" text-anchor="end" font-family="Liberation Sans, Arial, sans-serif" font-size="9.3" fill="#1a1a1a">End</text>
</g>
<polyline points="36.8,246.2 37.9,241.1 39.1,239.6 40.6,242.5 42.0,244.0 43.5,240.3 44.9,234.5 46.4,231.6 47.9,234.5 48.0,235.0 48.4,236.8 48.8,238.7 49.3,240.3 49.7,242.4 50.1,244.5 50.5,248.6 50.9,249.4 51.4,247.8 51.8,244.5 52.2,243.7 52.6,240.9 53.0,240.5 53.5,237.8 53.9,238.4 54.3,236.1 54.7,236.6 55.1,236.7 55.6,239.7 56.0,239.4 56.4,241.2 56.8,240.2 57.2,242.9 57.7,243.2 58.1,246.1 58.5,243.9 58.9,244.5 59.3,243.1 59.8,245.9 60.2,245.3 60.6,245.8 61.0,243.2 61.4,243.6 61.9,241.1 62.3,241.3 62.7,239.0 63.1,239.1 63.5,236.3 64.0,236.8 64.4,233.7 64.8,233.7 65.2,231.3 65.6,231.9 66.1,229.7 66.5,230.5 66.9,227.8 67.3,228.4 67.7,224.7 68.2,226.2 68.6,220.5 69.0,225.3 69.4,221.6 69.8,228.1 70.3,219.0 70.7,221.3 71.1,216.1 71.5,221.1 71.9,217.1 72.4,225.1 72.8,220.9 73.2,228.6 73.6,223.5 74.0,231.8 74.5,227.9 74.9,234.9 75.3,230.6 75.7,237.5 76.1,230.7 76.6,235.3 77.0,228.6 77.4,234.4 77.8,225.4 78.2,231.0 78.7,224.5 79.1,230.5 79.5,225.2 79.9,231.6 80.3,225.8 80.8,233.4 81.2,227.4 81.6,233.6 82.0,227.3 82.4,232.7 82.9,225.9 83.3,231.8 83.7,226.0 84.1,233.2 84.5,227.5 85.0,233.5 85.4,227.3 85.8,233.4 86.2,227.4 86.6,233.8 87.1,228.6 87.5,235.7 87.9,229.6 88.3,237.4 88.7,231.2 89.2,237.7 89.6,233.1 90.0,239.5 90.4,232.5 90.8,242.0 91.3,235.5 91.7,244.0 92.1,239.1 92.5,244.4 92.9,239.6 93.4,246.6 93.8,241.4 94.2,248.0 94.6,241.3 95.0,245.8 95.5,238.7 95.9,243.2 96.3,236.4 96.7,244.4 97.1,235.7 97.6,241.7 98.0,237.7 98.4,243.8 98.8,236.9 99.2,244.6 99.7,239.1 100.1,243.8 100.5,236.3 100.9,239.7 101.3,232.7 101.8,237.0 102.2,229.8 102.6,233.1 103.0,226.9 103.4,232.1 103.9,226.6 104.3,232.4 104.7,225.0 105.1,231.3 105.5,225.3 106.0,231.0 106.4,225.1 106.8,231.1 107.2,226.4 107.6,232.1 108.1,226.0 108.5,234.0 108.9,228.3 109.3,233.8 109.7,228.7 110.2,236.1 110.6,229.7 111.0,236.0 111.4,231.8 111.8,238.7 112.3,231.9 112.7,238.0 113.1,232.3 113.5,236.3 113.9,230.0 114.4,236.4 114.8,227.2 115.2,236.6 115.6,233.0 116.0,241.4 116.5,235.3 116.9,240.2 117.3,234.2 117.7,238.8 118.1,232.4 118.6,238.2 119.0,232.3 119.4,236.8 119.8,231.4 120.2,239.8 120.7,234.0 121.1,241.3 121.5,234.3 121.9,240.3 122.3,233.6 122.8,238.9 123.2,231.6 123.6,238.0 124.0,234.2 124.4,240.3 124.9,235.5 125.3,242.7 125.7,238.5 126.1,245.5 126.5,237.1 127.0,241.6 127.4,234.3 127.8,237.9 128.2,231.6 128.6,235.6 129.1,228.8 129.5,236.5 129.9,231.3 130.3,239.1 130.7,233.7 131.2,242.0 131.6,238.4 132.0,246.0 132.4,239.9 132.8,246.8 133.3,242.7 133.7,248.1 134.1,240.5 134.5,244.2 134.9,236.7 135.4,241.1 135.8,235.0 136.2,239.5 136.6,234.3 137.0,239.9 137.5,235.2 137.9,241.8 138.3,234.3 138.7,239.3 139.1,233.8 139.6,239.0 140.0,230.6 140.4,237.0 140.8,230.0 141.2,235.9 141.7,230.7 142.1,237.7 142.5,231.5 142.9,238.7 143.3,233.4 143.8,241.1 144.2,235.8 144.6,241.7 145.0,235.4 145.4,241.8 145.9,234.8 146.3,241.3 146.7,235.5 147.1,242.0 147.5,237.8 148.0,244.1 148.4,237.8 148.8,244.4 149.2,237.4 149.6,245.8 150.1,239.8 150.5,246.5 150.9,239.8 151.3,243.8 151.7,236.8 152.2,239.5 152.6,232.1 153.0,236.3 153.4,229.4 153.8,235.2 154.3,228.7 154.7,234.8 155.1,229.1 155.5,235.2 155.9,229.1 156.4,238.4 156.8,232.1 157.2,240.4 157.6,235.6 158.0,243.6 158.5,237.8 158.9,245.5 159.3,241.0 159.7,247.3 160.1,239.5 160.6,243.5 161.0,237.4 161.4,241.3 161.8,233.2 162.2,238.4 162.7,229.5 163.1,235.2 163.5,230.5 163.9,236.1 164.3,230.0 164.8,235.4 165.2,227.8 165.6,234.6 166.0,228.3 166.4,236.1 166.9,229.7 167.3,237.9 167.7,232.6 168.1,239.2 168.5,235.7 169.0,241.3 169.4,234.8 169.8,240.1 170.2,233.2 170.6,237.8 171.1,230.7 171.5,235.7 171.9,229.1 172.3,233.6 172.7,227.3 173.2,233.1 173.6,227.0 174.0,232.6 174.4,228.0 174.8,233.0 175.3,228.2 175.7,234.9 176.1,228.3 176.5,236.5 176.9,232.6 177.4,238.3 177.8,233.9 178.2,240.7 178.6,234.6 179.0,241.3 179.5,234.6 179.9,240.9 180.3,233.5 180.7,238.6 181.1,232.0 181.6,238.4 182.0,231.3 182.4,238.1 182.8,233.8 183.2,240.3 183.7,235.4 184.1,243.7 184.5,236.7 184.9,245.8 185.3,238.4 185.8,244.0 186.2,236.7 186.6,240.8 187.0,235.4 187.4,241.9 187.9,234.7 188.3,241.8 188.7,234.8 189.1,241.7 189.5,235.7 190.0,242.2 190.4,235.2 190.8,240.9 191.2,235.0 191.6,243.2 192.1,236.3 192.5,243.3 192.9,238.3 193.3,244.9 193.7,238.8 194.2,247.0 194.6,241.4 195.0,247.2 195.4,241.4 195.8,247.7 196.3,241.7 196.7,246.7 197.1,240.7 197.5,247.1 197.9,240.1 198.4,245.0 198.8,239.7 199.2,245.7 199.6,239.5 200.0,244.3 200.5,237.7 200.9,242.8 201.3,237.5 201.7,241.3 202.1,235.7 202.6,240.6 203.0,232.3 203.4,236.9 203.8,229.6 204.2,234.0 204.7,224.8 205.1,231.3 205.5,225.2 205.9,231.8 206.3,227.3 206.8,233.6 207.2,227.6 207.6,233.9 208.0,228.0 208.4,235.2 208.9,230.3 209.3,236.9 209.7,229.9 210.1,237.2 210.5,231.4 211.0,238.5 211.4,231.1 211.8,238.6 212.2,231.4 212.6,238.1 213.1,233.3 213.5,239.3 213.9,233.5 214.3,239.3 214.7,235.2 215.2,240.2 215.6,232.6 216.0,236.9 216.4,230.3 216.8,235.6 217.3,230.1 217.7,237.5 218.1,231.5 218.5,238.0 218.9,233.3 219.4,240.1 219.8,235.0 220.2,241.5 220.6,235.4 221.0,242.2 221.5,233.6 221.9,237.5 222.3,230.8 222.7,235.4 223.1,227.0 223.6,235.1 224.0,226.3 224.4,232.9 224.8,228.2 225.2,233.1 225.7,228.9 226.1,235.0 226.5,230.6 226.9,236.6 227.3,230.3 227.8,237.2 228.2,231.8 228.6,238.5 229.0,232.6 229.4,239.1 229.9,232.2 230.3,238.3 230.7,230.5 231.1,236.5 231.5,229.2 232.0,233.5 232.4,228.4 232.8,236.1 233.2,231.6 233.6,239.4 234.1,233.5 234.5,241.4 234.9,236.9 235.3,243.5 235.7,235.8 236.2,243.5 236.6,237.8 237.0,244.5 237.4,239.3 237.8,244.7 238.3,238.4 238.7,245.6 239.1,238.8 239.5,244.9 239.9,239.0 240.4,245.1 240.8,238.2 241.2,243.1 241.6,237.5 242.0,241.9 242.5,236.5 242.9,241.4 243.3,234.1 243.7,242.6 244.1,235.8 244.6,241.2 245.0,236.7 245.4,245.3 245.8,240.1 246.2,246.4 246.7,243.1 247.1,250.3 247.5,245.3 247.9,253.4 248.3,248.3 248.8,256.6 249.2,248.6 249.6,255.8 250.0,250.6 250.4,256.5 250.9,251.8 251.3,256.5 251.7,251.1 252.1,256.7 252.5,248.7 253.0,254.8 253.4,248.7 253.8,254.9 254.2,248.4 254.6,254.4 255.1,247.7 255.5,253.3 255.9,246.6 256.3,253.2 256.7,246.2 257.2,253.2 257.6,246.5 258.0,251.8 258.4,243.6 258.8,249.9 259.3,242.9 259.7,247.3 260.1,239.1 260.5,244.7 260.9,236.9 261.4,241.7 261.8,236.2 262.2,241.2 262.6,235.2 263.0,241.2 263.5,233.1 263.9,238.7 264.3,233.6 264.7,239.5 265.1,234.4 265.6,240.8 266.0,236.5 266.4,243.6 266.8,237.4 267.2,244.6 267.7,239.9 268.1,246.2 268.5,241.2 268.9,247.1 269.3,242.4 269.8,249.2 270.2,244.3 270.6,251.6 271.0,246.6 271.4,253.1 271.9,248.1 272.3,255.6 272.7,250.7 273.1,257.0 273.5,252.2 274.0,258.3 274.4,250.4 274.8,255.3 275.2,247.4 275.6,253.3 276.1,244.8 276.5,250.3 276.9,242.3 277.3,247.0 277.7,239.9 278.2,247.3 278.6,241.9 279.0,250.5 279.4,245.4 279.8,252.0 280.3,246.8 280.7,253.8 281.1,247.7 281.5,254.4 281.9,249.3 282.4,255.6 282.8,249.4 283.2,255.9 283.6,248.9 284.0,253.9 284.5,247.5 284.9,251.3 285.3,245.9 285.7,250.0 286.1,243.7 286.6,247.9 287.0,241.1 287.4,247.2 287.8,239.5 288.2,245.2 288.7,240.2 289.1,245.8 289.5,239.2 289.9,246.5 290.3,239.8 290.8,246.1 291.2,240.1 291.6,244.4 292.0,237.5 292.4,244.0 292.9,236.5 293.3,239.8 293.7,233.8 294.1,240.6 294.5,231.9 295.0,237.7 295.4,233.7 295.8,240.0 296.2,235.7 296.6,242.1 297.1,236.5 297.5,244.6 297.9,241.0 298.3,248.2 298.7,241.8 299.2,247.3 299.6,240.3 300.0,245.1 300.4,240.4 300.8,244.2 301.3,239.8 301.7,244.1 302.1,241.3 302.5,244.8 302.9,240.7 303.4,242.4 303.8,239.5 304.2,241.1 304.6,238.9 305.0,240.7 305.5,240.0 305.9,241.3 306.3,240.6 306.7,240.5 307.5,239.6 309.0,241.1 310.5,242.5 311.9,244.7 313.4,246.9 314.8,249.1 316.3,250.3 317.8,248.4 318.8,243.3 320.0,240.3 321.1,242.5 322.6,244.7 324.1,245.5 325.5,244.4 327.0,245.0 328.4,246.9 329.9,248.4 331.7,247.4 333.1,249.9 334.6,252.8 336.1,255.0 337.5,257.2 339.0,258.6 340.0,259.7 340.9,259.1 342.3,259.7 343.8,257.9 345.2,256.4 346.4,256.1 347.9,257.9 348.9,258.2 350.4,255.7 351.8,253.5 353.3,254.2 354.7,253.8 356.2,253.5 357.7,254.2 359.1,257.2 360.2,258.6 361.3,256.4 362.5,253.5 364.0,252.8 365.4,255.0 366.9,257.2 368.3,260.1 369.8,263.0 370.8,264.0 371.9,259.4 373.0,252.8 374.2,250.3 375.2,252.8 376.7,257.9 378.1,262.3 378.9,263.0 380.0,260.5 381.5,260.8 382.5,261.6 384.0,257.9 385.5,254.2 386.9,252.3 387.9,252.8 389.1,256.4 390.6,259.4 392.0,260.5 393.2,258.6 394.7,255.7 396.1,255.0 397.6,257.2 398.6,254.2 399.6,249.9 400.8,248.4 402.0,250.6 403.0,255.0 404.5,260.1 405.9,261.1 407.4,264.5 408.9,266.0 409.9,263.8 411.1,259.4 412.5,255.7 414.0,254.2 415.0,253.8 415.6,255.0 417.0,260.1 418.5,262.3 419.9,263.0 421.4,264.5 422.9,267.4 424.3,268.9 425.8,266.0 427.3,261.6 428.3,260.8 429.5,263.8 430.8,266.0 432.2,265.2 433.7,264.9 435.2,265.5 436.6,265.2 438.1,266.7 439.3,268.9 440.4,269.6 441.9,266.0 443.3,262.3 444.8,262.0 445.8,263.0 446.9,256.4 448.0,253.8 449.2,255.0 450.2,258.6 451.7,261.6 453.1,261.1 454.6,260.1 456.1,256.4 457.5,252.0 459.0,251.3 460.5,254.2 461.9,257.9 463.4,260.8 464.8,260.1 466.3,259.4 467.8,260.1 469.2,256.4 470.7,253.5 471.7,255.7 472.9,258.6 474.1,255.7 475.1,255.0 476.5,257.2 478.0,257.9 478.4,258.6 479.9,260.1 480.9,263.0 481.8,263.2 482.3,265.2 482.6,264.3 483.0,268.0 483.3,264.8 483.7,270.2 484.0,265.3 484.4,272.2 484.8,272.7 485.1,266.0 485.4,271.5 485.8,262.5 486.1,269.0 486.5,261.2 486.9,265.0 487.3,257.5 487.9,253.5 488.7,246.2 489.7,242.5 490.9,244.0 492.0,246.2 493.1,250.6 494.5,251.3 496.0,250.6 497.4,254.2 498.9,258.6 500.4,261.6 501.4,256.4 502.6,250.6 503.7,247.4 504.8,248.4 505.8,252.8 507.0,257.9 508.1,260.8 509.1,259.4 510.6,254.2 512.1,249.9 513.1,251.3 514.3,256.4 515.7,260.1 517.2,263.0 518.7,265.2 520.1,266.7 521.3,267.4 522.3,263.8 523.3,260.5 524.2,260.8 524.9,263.8 525.7,265.2" fill="none" stroke="#0c84d3" stroke-width="1.3" stroke-linejoin="round" stroke-linecap="round"/>
<rect x="36.9" y="215.5" width="503.30" height="57.50" fill="none" stroke="#3a3a3a" stroke-width="0.95"/>
<text x="37.20" y="289.30" text-anchor="middle" font-family="Liberation Serif, 'Times New Roman', serif" stroke="#1a1a1a" stroke-width="0.08" font-size="11.6" fill="#1a1a1a">400</text>
<line x1="99.81" y1="273.0" x2="99.81" y2="268.50" stroke="#3a3a3a" stroke-width="0.9"/>
<line x1="99.81" y1="215.5" x2="99.81" y2="220.00" stroke="#3a3a3a" stroke-width="0.9"/>
<text x="100.11" y="289.30" text-anchor="middle" font-family="Liberation Serif, 'Times New Roman', serif" stroke="#1a1a1a" stroke-width="0.08" font-size="11.6" fill="#1a1a1a">450</text>
<line x1="162.73" y1="273.0" x2="162.73" y2="268.50" stroke="#3a3a3a" stroke-width="0.9"/>
<line x1="162.73" y1="215.5" x2="162.73" y2="220.00" stroke="#3a3a3a" stroke-width="0.9"/>
<text x="163.03" y="289.30" text-anchor="middle" font-family="Liberation Serif, 'Times New Roman', serif" stroke="#1a1a1a" stroke-width="0.08" font-size="11.6" fill="#1a1a1a">500</text>
<line x1="225.64" y1="273.0" x2="225.64" y2="268.50" stroke="#3a3a3a" stroke-width="0.9"/>
<line x1="225.64" y1="215.5" x2="225.64" y2="220.00" stroke="#3a3a3a" stroke-width="0.9"/>
<text x="225.94" y="289.30" text-anchor="middle" font-family="Liberation Serif, 'Times New Roman', serif" stroke="#1a1a1a" stroke-width="0.08" font-size="11.6" fill="#1a1a1a">550</text>
<line x1="288.55" y1="273.0" x2="288.55" y2="268.50" stroke="#3a3a3a" stroke-width="0.9"/>
<line x1="288.55" y1="215.5" x2="288.55" y2="220.00" stroke="#3a3a3a" stroke-width="0.9"/>
<text x="288.85" y="289.30" text-anchor="middle" font-family="Liberation Serif, 'Times New Roman', serif" stroke="#1a1a1a" stroke-width="0.08" font-size="11.6" fill="#1a1a1a">600</text>
<line x1="351.46" y1="273.0" x2="351.46" y2="268.50" stroke="#3a3a3a" stroke-width="0.9"/>
<line x1="351.46" y1="215.5" x2="351.46" y2="220.00" stroke="#3a3a3a" stroke-width="0.9"/>
<text x="351.76" y="289.30" text-anchor="middle" font-family="Liberation Serif, 'Times New Roman', serif" stroke="#1a1a1a" stroke-width="0.08" font-size="11.6" fill="#1a1a1a">650</text>
<line x1="414.38" y1="273.0" x2="414.38" y2="268.50" stroke="#3a3a3a" stroke-width="0.9"/>
<line x1="414.38" y1="215.5" x2="414.38" y2="220.00" stroke="#3a3a3a" stroke-width="0.9"/>
<text x="414.68" y="289.30" text-anchor="middle" font-family="Liberation Serif, 'Times New Roman', serif" stroke="#1a1a1a" stroke-width="0.08" font-size="11.6" fill="#1a1a1a">700</text>
<line x1="477.29" y1="273.0" x2="477.29" y2="268.50" stroke="#3a3a3a" stroke-width="0.9"/>
<line x1="477.29" y1="215.5" x2="477.29" y2="220.00" stroke="#3a3a3a" stroke-width="0.9"/>
<text x="477.59" y="289.30" text-anchor="middle" font-family="Liberation Serif, 'Times New Roman', serif" stroke="#1a1a1a" stroke-width="0.08" font-size="11.6" fill="#1a1a1a">750</text>
<line x1="36.9" y1="257.50" x2="41.40" y2="257.50" stroke="#3a3a3a" stroke-width="0.9"/>
<line x1="540.2" y1="257.50" x2="535.70" y2="257.50" stroke="#3a3a3a" stroke-width="0.9"/>
<text x="32.50" y="262.10" text-anchor="end" font-family="Liberation Serif, 'Times New Roman', serif" stroke="#1a1a1a" stroke-width="0.08" font-size="11.6" fill="#1a1a1a">12</text>
<line x1="36.9" y1="225.50" x2="41.40" y2="225.50" stroke="#3a3a3a" stroke-width="0.9"/>
<line x1="540.2" y1="225.50" x2="535.70" y2="225.50" stroke="#3a3a3a" stroke-width="0.9"/>
<text x="32.50" y="230.00" text-anchor="end" font-family="Liberation Serif, 'Times New Roman', serif" stroke="#1a1a1a" stroke-width="0.08" font-size="11.6" fill="#1a1a1a">14</text>
<text x="288.55" y="209.70" text-anchor="middle" font-family="Liberation Serif, 'Times New Roman', serif" stroke="#1a1a1a" stroke-width="0.08" font-size="12.8" fill="#111">Raw foot EDA</text>
</g>
<g id="axes3">
<line x1="71.00" y1="310.0" x2="71.00" y2="367.5" stroke="#757575" stroke-width="1"/>
<line x1="313.45" y1="310.0" x2="313.45" y2="367.5" stroke="#757575" stroke-width="1"/>
<line x1="480.50" y1="310.0" x2="480.50" y2="367.5" stroke="#757575" stroke-width="1"/>
<g>
<text transform="translate(83.30,314.10) rotate(-90)" text-anchor="end" font-family="Liberation Sans, Arial, sans-serif" font-size="9.55" fill="#1a1a1a">Walking</text>
<text transform="translate(325.75,314.10) rotate(-90)" text-anchor="end" font-family="Liberation Sans, Arial, sans-serif" font-size="9.75" fill="#1a1a1a">Weight lifting</text>
<text transform="translate(492.80,314.10) rotate(-90)" text-anchor="end" font-family="Liberation Sans, Arial, sans-serif" font-size="9.3" fill="#1a1a1a">End</text>
</g>
<polyline points="36.8,338.3 37.2,337.6 37.6,336.6 38.0,335.8 38.4,335.3 38.8,335.1 39.2,335.0 39.6,335.3 40.0,335.8 40.4,336.2 40.8,336.6 41.2,336.8 41.6,337.1 42.0,337.1 42.4,336.8 42.8,336.3 43.2,335.7 43.6,335.0 44.0,334.1 44.4,333.2 44.8,332.4 45.2,331.7 45.6,331.2 46.0,330.7 46.4,330.4 46.8,330.6 47.2,331.0 47.6,331.5 48.0,332.2 48.4,333.1 48.8,334.0 49.2,335.0 49.6,336.0 50.0,337.3 50.4,339.0 50.8,340.2 51.2,339.9 51.6,338.7 52.0,337.5 52.4,336.5 52.8,335.6 53.2,334.8 53.6,334.1 54.0,333.6 54.4,333.2 54.8,333.0 55.2,333.6 55.6,334.3 56.0,334.9 56.4,335.2 56.8,335.6 57.2,336.2 57.6,337.0 58.0,337.6 58.4,337.7 58.8,337.4 59.2,337.2 59.6,337.6 60.0,338.1 60.4,338.2 60.8,337.7 61.2,337.2 61.6,336.6 62.0,336.0 62.4,335.4 62.8,334.7 63.2,334.1 63.6,333.4 64.0,332.7 64.4,331.9 64.8,331.1 65.2,330.5 65.6,330.1 66.0,329.8 66.4,329.4 66.8,328.8 67.2,328.2 67.6,327.4 68.0,326.4 68.4,325.5 68.8,325.2 69.2,325.5 69.6,325.8 70.0,325.4 70.4,324.2 70.8,322.8 71.2,322.1 71.6,322.3 72.0,323.5 72.4,325.0 72.8,325.9 73.2,326.6 73.6,327.4 74.0,328.2 74.4,329.1 74.8,329.9 75.2,330.8 75.6,331.4 76.0,331.4 76.4,331.0 76.8,330.4 77.2,329.6 77.6,328.9 78.0,328.5 78.4,328.3 78.8,328.2 79.2,328.3 79.6,328.5 80.0,328.7 80.4,328.9 80.8,329.1 81.2,329.3 81.6,329.3 82.0,329.2 82.4,329.1 82.8,329.0 83.2,329.0 83.6,329.0 84.0,329.1 84.4,329.1 84.8,329.2 85.2,329.3 85.6,329.5 86.0,329.7 86.4,330.0 86.8,330.3 87.2,330.6 87.6,331.0 88.0,331.3 88.4,331.6 88.8,331.9 89.2,332.2 89.6,332.5 90.0,332.9 90.4,333.4 90.8,333.9 91.2,334.5 91.6,335.0 92.0,335.5 92.4,336.0 92.8,336.5 93.2,336.9 93.6,337.4 94.0,337.8 94.4,337.8 94.8,337.3 95.2,336.6 95.6,336.0 96.0,335.5 96.4,335.1 96.8,334.7 97.2,334.6 97.6,334.8 98.0,335.2 98.4,335.5 98.8,335.9 99.2,336.2 99.6,335.9 100.0,335.3 100.4,334.5 100.8,333.7 101.2,332.8 101.6,332.0 102.0,331.1 102.4,330.3 102.8,329.7 103.2,329.4 103.6,329.1 104.0,328.8 104.4,328.6 104.8,328.5 105.2,328.4 105.6,328.3 106.0,328.2 106.4,328.2 106.8,328.2 107.2,328.5 107.6,328.8 108.0,329.1 108.4,329.4 108.8,329.7 109.2,330.0 109.6,330.3 110.0,330.6 110.4,330.9 110.8,331.2 111.2,331.4 111.6,331.5 112.0,331.6 112.4,331.7 112.8,331.8 113.2,331.8 113.6,331.5 114.0,331.2 114.4,330.8 114.8,330.6 115.2,331.2 115.6,332.5 116.0,333.5 116.4,333.7 116.8,333.5 117.2,333.2 117.6,333.0 118.0,332.8 118.4,332.5 118.8,332.3 119.2,332.1 119.6,332.1 120.0,332.5 120.4,333.1 120.8,333.6 121.2,333.7 121.6,333.4 122.0,333.0 122.4,332.6 122.8,332.3 123.2,332.1 123.6,332.4 124.0,333.0 124.4,333.6 124.8,334.2 125.2,334.9 125.6,335.6 126.0,336.0 126.4,335.7 126.8,334.8 127.2,333.7 127.6,332.8 128.0,332.0 128.4,331.3 128.8,330.8 129.2,330.7 129.6,331.1 130.0,331.8 130.4,332.6 130.8,333.5 131.2,334.5 131.6,335.5 132.0,336.4 132.4,337.0 132.8,337.4 133.2,337.8 133.6,337.7 134.0,337.1 134.4,336.3 134.8,335.5 135.2,334.7 135.6,334.0 136.0,333.4 136.4,333.0 136.8,333.1 137.2,333.4 137.6,333.7 138.0,333.7 138.4,333.5 138.8,333.1 139.2,332.8 139.6,332.3 140.0,331.9 140.4,331.4 140.8,331.0 141.2,330.9 141.6,331.1 142.0,331.4 142.4,331.8 142.8,332.3 143.2,332.9 143.6,333.6 144.0,334.2 144.4,334.6 144.8,334.5 145.2,334.1 145.6,333.8 146.0,333.8 146.4,334.0 146.8,334.3 147.2,334.7 147.6,335.0 148.0,335.4 148.4,335.7 148.8,336.1 149.2,336.3 149.6,336.6 150.0,336.9 150.4,337.1 150.8,336.8 151.2,336.1 151.6,335.0 152.0,334.0 152.4,333.0 152.8,332.1 153.2,331.2 153.6,330.5 154.0,330.3 154.4,330.4 154.8,330.5 155.2,330.6 155.6,331.0 156.0,331.5 156.4,332.1 156.8,332.7 157.2,333.4 157.6,334.2 158.0,335.0 158.4,335.7 158.8,336.2 159.2,336.7 159.6,337.0 160.0,336.7 160.4,336.1 160.8,335.3 161.2,334.4 161.6,333.5 162.0,332.6 162.4,331.8 162.8,331.2 163.2,331.0 163.6,331.0 164.0,331.0 164.4,330.8 164.8,330.5 165.2,330.1 165.6,330.0 166.0,330.2 166.4,330.7 166.8,331.1 167.2,331.7 167.6,332.3 168.0,333.0 168.4,333.6 168.8,333.8 169.2,333.8 169.6,333.7 170.0,333.4 170.4,332.9 170.8,332.2 171.2,331.5 171.6,331.0 172.0,330.5 172.4,330.1 172.8,329.8 173.2,329.4 173.6,329.1 174.0,329.1 174.4,329.3 174.8,329.6 175.2,329.9 175.6,330.3 176.0,330.8 176.4,331.2 176.8,331.8 177.2,332.3 177.6,332.9 178.0,333.4 178.4,333.6 178.8,333.8 179.2,333.8 179.6,333.7 180.0,333.3 180.4,332.7 180.8,332.2 181.2,332.1 181.6,332.2 182.0,332.5 182.4,332.8 182.8,333.2 183.2,333.8 183.6,334.4 184.0,334.8 184.4,335.1 184.8,335.3 185.2,335.5 185.6,335.3 186.0,334.9 186.4,334.5 186.8,334.1 187.2,334.0 187.6,334.0 188.0,334.0 188.4,334.1 188.8,334.2 189.2,334.4 189.6,334.6 190.0,334.6 190.4,334.3 190.8,333.9 191.2,333.9 191.6,334.2 192.0,334.5 192.4,334.9 192.8,335.3 193.2,335.8 193.6,336.2 194.0,336.7 194.4,337.2 194.8,337.6 195.2,337.9 195.6,337.9 196.0,337.6 196.4,337.2 196.8,337.0 197.2,336.8 197.6,336.7 198.0,336.6 198.4,336.5 198.8,336.5 199.2,336.5 199.6,336.4 200.0,336.2 200.4,335.9 200.8,335.5 201.2,335.1 201.6,334.7 202.0,334.2 202.4,333.7 202.8,333.1 203.2,332.2 203.6,331.3 204.0,330.3 204.4,329.2 204.8,328.4 205.2,328.3 205.6,328.5 206.0,328.8 206.4,329.1 206.8,329.4 207.2,329.7 207.6,330.1 208.0,330.3 208.4,330.6 208.8,330.8 209.2,331.0 209.6,331.3 210.0,331.5 210.4,331.7 210.8,331.9 211.2,332.0 211.6,332.1 212.0,332.3 212.4,332.4 212.8,332.5 213.2,332.6 213.6,332.8 214.0,333.1 214.4,333.4 214.8,333.7 215.2,333.5 215.6,332.8 216.0,332.0 216.4,331.4 216.8,331.2 217.2,331.2 217.6,331.4 218.0,331.6 218.4,332.1 218.8,332.7 219.2,333.2 219.6,333.5 220.0,333.7 220.4,333.8 220.8,333.8 221.2,333.3 221.6,332.5 222.0,331.7 222.4,331.0 222.8,330.4 223.2,329.8 223.6,329.3 224.0,329.1 224.4,329.3 224.8,329.5 225.2,329.8 225.6,330.1 226.0,330.4 226.4,330.7 226.8,331.1 227.2,331.4 227.6,331.8 228.0,332.1 228.4,332.3 228.8,332.5 229.2,332.6 229.6,332.6 230.0,332.3 230.4,331.8 230.8,331.4 231.2,330.9 231.6,330.4 232.0,330.1 232.4,330.3 232.8,331.0 233.2,331.7 233.6,332.5 234.0,333.3 234.4,334.1 234.8,334.7 235.2,334.9 235.6,335.1 236.0,335.2 236.4,335.3 236.8,335.6 237.2,335.8 237.6,336.0 238.0,336.2 238.4,336.3 238.8,336.4 239.2,336.4 239.6,336.2 240.0,336.0 240.4,335.8 240.8,335.6 241.2,335.3 241.6,335.1 242.0,334.8 242.4,334.5 242.8,334.2 243.2,333.9 243.6,333.7 244.0,333.9 244.4,334.3 244.8,334.7 245.2,335.3 245.6,336.0 246.0,336.8 246.4,337.6 246.8,338.4 247.2,339.2 247.6,340.0 248.0,340.7 248.4,341.2 248.8,341.7 249.2,342.1 249.6,342.5 250.0,342.7 250.4,343.0 250.8,343.1 251.2,343.0 251.6,342.8 252.0,342.6 252.4,342.3 252.8,342.1 253.2,341.9 253.6,341.7 254.0,341.5 254.4,341.4 254.8,341.3 255.2,341.1 255.6,341.0 256.0,340.9 256.4,340.8 256.8,340.6 257.2,340.4 257.6,340.2 258.0,339.9 258.4,339.4 258.8,338.8 259.2,338.1 259.6,337.4 260.0,336.7 260.4,336.0 260.8,335.4 261.2,334.8 261.6,334.5 262.0,334.3 262.4,334.0 262.8,333.8 263.2,333.4 263.6,333.1 264.0,332.8 264.4,332.9 264.8,333.1 265.2,333.5 265.6,334.0 266.0,334.7 266.4,335.2 266.8,335.7 267.2,336.0 267.6,336.2 268.0,336.5 268.4,336.9 268.8,337.3 269.2,337.8 269.6,338.3 270.0,338.8 270.4,339.4 270.8,340.0 271.2,340.6 271.6,341.1 272.0,341.7 272.4,342.2 272.8,342.7 273.2,343.0 273.6,343.3 274.0,343.3 274.4,342.9 274.8,342.2 275.2,341.5 275.6,340.7 276.0,339.9 276.4,339.1 276.8,338.4 277.2,337.8 277.6,337.4 278.0,337.3 278.4,337.8 278.8,338.5 279.2,339.2 279.6,339.8 280.0,340.4 280.4,340.9 280.8,341.3 281.2,341.7 281.6,342.1 282.0,342.3 282.4,342.3 282.8,342.2 283.2,342.0 283.6,341.7 284.0,341.3 284.4,340.9 284.8,340.4 285.2,339.9 285.6,339.3 286.0,338.7 286.4,338.2 286.8,337.7 287.2,337.2 287.6,336.8 288.0,336.6 288.4,336.5 288.8,336.5 289.2,336.5 289.6,336.6 290.0,336.7 290.4,336.8 290.8,336.8 291.2,336.5 291.6,336.2 292.0,335.8 292.4,335.3 292.8,334.6 293.2,333.9 293.6,333.3 294.0,332.8 294.4,332.3 294.8,332.2 295.2,332.6 295.6,333.1 296.0,333.7 296.4,334.2 296.8,334.6 297.2,335.2 297.6,336.0 298.0,337.1 298.4,337.8 298.8,337.7 299.2,337.3 299.6,336.9 300.0,336.6 300.4,336.4 300.8,336.2 301.2,336.2 301.6,336.4 302.0,336.7 302.4,336.7 302.8,336.5 303.2,336.1 303.6,335.7 304.0,335.4 304.4,335.1 304.8,335.0 305.2,335.1 305.6,335.4 306.0,335.5 306.4,335.5 306.8,335.3 307.2,335.0 307.6,334.9 308.0,335.1 308.4,335.3 308.8,335.5 309.2,335.7 309.6,336.0 310.0,336.2 310.4,336.5 310.8,336.8 311.2,337.1 311.6,337.4 312.0,337.8 312.4,338.1 312.8,338.5 313.2,338.8 313.6,339.2 314.0,339.5 314.4,339.9 314.8,340.2 315.2,340.4 315.6,340.6 316.0,340.8 316.4,340.8 316.8,340.6 317.2,340.3 317.6,339.9 318.0,339.2 318.4,338.2 318.8,337.2 319.2,336.4 319.6,335.8 320.0,335.5 320.4,335.7 320.8,336.1 321.2,336.5 321.6,336.9 322.0,337.2 322.4,337.5 322.8,337.8 323.2,337.9 323.6,338.0 324.0,338.1 324.4,338.0 324.8,337.9 325.2,337.7 325.6,337.7 326.0,337.7 326.4,337.8 326.8,337.9 327.2,338.1 327.6,338.4 328.0,338.7 328.4,338.9 328.8,339.2 329.2,339.4 329.6,339.6 330.0,339.8 330.4,339.7 330.8,339.6 331.2,339.4 331.6,339.4 332.0,339.6 332.4,339.9 332.8,340.3 333.2,340.8 333.6,341.2 334.0,341.7 334.4,342.1 334.8,342.5 335.2,342.9 335.6,343.2 336.0,343.6 336.4,343.9 336.8,344.3 337.2,344.6 337.6,344.9 338.0,345.2 338.4,345.4 338.8,345.6 339.2,345.9 339.6,346.1 340.0,346.2 340.4,346.2 340.8,346.1 341.2,346.1 341.6,346.2 342.0,346.2 342.4,346.2 342.8,346.0 343.2,345.8 343.6,345.5 344.0,345.2 344.4,345.0 344.8,344.8 345.2,344.6 345.6,344.5 346.0,344.4 346.4,344.4 346.8,344.6 347.2,344.8 347.6,345.1 348.0,345.3 348.4,345.4 348.8,345.4 349.2,345.2 349.6,344.9 350.0,344.5 350.4,344.1 350.8,343.7 351.2,343.4 351.6,343.1 352.0,342.9 352.4,343.0 352.8,343.1 353.2,343.2 353.6,343.2 354.0,343.1 354.4,343.0 354.8,343.0 355.2,342.9 355.6,342.9 356.0,342.9 356.4,342.9 356.8,343.0 357.2,343.1 357.6,343.3 358.0,343.6 358.4,344.0 358.8,344.5 359.2,344.9 359.6,345.3 360.0,345.5 360.4,345.4 360.8,345.1 361.2,344.7 361.6,344.1 362.0,343.6 362.4,343.1 362.8,342.8 363.2,342.6 363.6,342.5 364.0,342.5 364.4,342.7 364.8,343.1 365.2,343.4 365.6,343.8 366.0,344.1 366.4,344.5 366.8,344.8 367.2,345.2 367.6,345.7 368.0,346.1 368.4,346.6 368.8,347.1 369.2,347.5 369.6,348.0 370.0,348.3 370.4,348.6 370.8,348.6 371.2,348.0 371.6,346.9 372.0,345.8 372.4,344.6 372.8,343.3 373.2,342.4 373.6,341.7 374.0,341.4 374.4,341.3 374.8,341.7 375.2,342.3 375.6,343.1 376.0,343.9 376.4,344.7 376.8,345.4 377.2,346.1 377.6,346.8 378.0,347.5 378.4,347.9 378.8,348.1 379.2,347.9 379.6,347.4 380.0,347.1 380.4,346.9 380.8,346.9 381.2,347.0 381.6,347.1 382.0,347.2 382.4,347.3 382.8,347.0 383.2,346.5 383.6,346.0 384.0,345.4 384.4,344.8 384.8,344.2 385.2,343.7 385.6,343.2 386.0,342.9 386.4,342.6 386.8,342.3 387.2,342.2 387.6,342.3 388.0,342.6 388.4,343.1 388.8,343.8 389.2,344.5 389.6,345.0 390.0,345.5 390.4,345.9 390.8,346.2 391.2,346.4 391.6,346.6 392.0,346.7 392.4,346.5 392.8,346.2 393.2,345.8 393.6,345.4 394.0,344.9 394.4,344.5 394.8,344.1 395.2,343.9 395.6,343.8 396.0,343.8 396.4,343.9 396.8,344.2 397.2,344.5 397.6,344.7 398.0,344.3 398.4,343.6 398.8,342.8 399.2,341.9 399.6,341.1 400.0,340.5 400.4,340.2 400.8,340.1 401.2,340.3 401.6,340.7 402.0,341.2 402.4,342.0 402.8,343.0 403.2,343.9 403.6,344.8 404.0,345.6 404.4,346.2 404.8,346.7 405.2,346.9 405.6,347.0 406.0,347.3 406.4,347.7 406.8,348.3 407.2,348.8 407.6,349.2 408.0,349.4 408.4,349.7 408.8,349.8 409.2,349.5 409.6,349.1 410.0,348.5 410.4,347.7 410.8,346.8 411.2,346.1 411.6,345.4 412.0,344.9 412.4,344.3 412.8,344.0 413.2,343.7 413.6,343.5 414.0,343.3 414.4,343.1 414.8,343.1 415.2,343.3 415.6,343.7 416.0,344.4 416.4,345.3 416.8,346.0 417.2,346.6 417.6,347.1 418.0,347.4 418.4,347.7 418.8,347.9 419.2,348.0 419.6,348.2 420.0,348.3 420.4,348.5 420.8,348.7 421.2,349.0 421.6,349.3 422.0,349.7 422.4,350.2 422.8,350.6 423.2,350.9 423.6,351.2 424.0,351.4 424.4,351.5 424.8,351.2 425.2,350.7 425.6,350.2 426.0,349.6 426.4,349.0 426.8,348.3 427.2,347.7 427.6,347.3 428.0,347.2 428.4,347.3 428.8,347.7 429.2,348.3 429.6,348.8 430.0,349.2 430.4,349.6 430.8,349.8 431.2,349.8 431.6,349.7 432.0,349.6 432.4,349.5 432.8,349.5 433.2,349.4 433.6,349.4 434.0,349.4 434.4,349.5 434.8,349.6 435.2,349.7 435.6,349.7 436.0,349.6 436.4,349.6 436.8,349.7 437.2,349.8 437.6,350.1 438.0,350.3 438.4,350.7 438.8,351.1 439.2,351.5 439.6,351.7 440.0,351.9 440.4,351.9 440.8,351.6 441.2,351.0 441.6,350.4 442.0,349.9 442.4,349.3 442.8,348.7 443.2,348.2 443.6,347.9 444.0,347.8 444.4,347.7 444.8,347.8 445.2,347.9 445.6,348.0 446.0,347.5 446.4,346.3 446.8,345.0 447.2,344.2 447.6,343.6 448.0,343.2 448.4,343.2 448.8,343.4 449.2,343.8 449.6,344.4 450.0,345.2 450.4,345.8 450.8,346.4 451.2,346.8 451.6,347.2 452.0,347.3 452.4,347.3 452.8,347.2 453.2,347.2 453.6,347.0 454.0,346.9 454.4,346.7 454.8,346.3 455.2,345.8 455.6,345.2 456.0,344.6 456.4,344.0 456.8,343.3 457.2,342.6 457.6,342.1 458.0,341.8 458.4,341.7 458.8,341.7 459.2,341.8 459.6,342.2 460.0,342.7 460.4,343.1 460.8,343.7 461.2,344.2 461.6,344.8 462.0,345.3 462.4,345.8 462.8,346.3 463.2,346.7 463.6,346.9 464.0,346.8 464.4,346.7 464.8,346.6 465.2,346.5 465.6,346.4 466.0,346.3 466.4,346.2 466.8,346.3 467.2,346.4 467.6,346.5 468.0,346.2 468.4,345.8 468.8,345.2 469.2,344.6 469.6,344.1 470.0,343.7 470.4,343.2 470.8,343.1 471.2,343.4 471.6,343.9 472.0,344.4 472.4,345.0 472.8,345.4 473.2,345.3 473.6,344.8 474.0,344.3 474.4,344.0 474.8,343.8 475.2,343.8 475.6,344.1 476.0,344.4 476.4,344.7 476.8,344.9 477.2,345.1 477.6,345.2 478.0,345.4 478.4,345.7 478.8,345.9 479.2,346.2 479.6,346.4 480.0,346.8 480.4,347.4 480.8,348.0 481.4,348.6 482.2,349.2 483.0,349.8 483.8,350.2 484.6,350.2 485.2,349.7 485.8,348.8 486.4,347.6 487.0,346.3 487.6,345.0 488.0,342.7 488.4,340.5 488.8,338.7 489.2,337.6 489.6,337.0 490.0,336.8 490.4,337.0 490.8,337.3 491.2,337.7 491.6,338.1 492.0,338.6 492.4,339.4 492.8,340.3 493.2,341.0 493.6,341.3 494.0,341.4 494.4,341.5 494.8,341.5 495.2,341.4 495.6,341.2 496.0,341.3 496.4,341.7 496.8,342.2 497.2,342.8 497.6,343.4 498.0,344.1 498.4,344.8 498.8,345.5 499.2,346.0 499.6,346.5 500.0,347.0 500.4,347.0 500.8,346.3 501.2,345.2 501.6,344.0 502.0,342.9 502.4,341.8 502.8,340.9 503.2,340.2 503.6,339.7 504.0,339.5 504.4,339.6 504.8,340.0 505.2,340.8 505.6,341.8 506.0,342.8 506.4,343.8 506.8,344.8 507.2,345.6 507.6,346.2 508.0,346.6 508.4,346.7 508.8,346.5 509.2,346.0 509.6,345.3 510.0,344.5 510.4,343.7 510.8,343.0 511.2,342.3 511.6,341.6 512.0,341.1 512.4,341.0 512.8,341.3 513.2,341.8 513.6,342.7 514.0,343.7 514.4,344.5 514.8,345.2 515.2,345.8 515.6,346.3 516.0,346.8 516.4,347.3 516.8,347.8 517.2,348.2 517.6,348.6 518.0,348.9 518.4,349.3 518.8,349.6 519.2,349.8 519.6,350.1 520.0,350.3 520.4,350.5 520.8,350.6 521.2,350.6 521.6,350.2 522.0,349.4 522.4,348.6 522.8,347.9 523.2,347.3 523.6,347.0 524.0,347.0 524.4,347.5 524.8,348.2 525.2,348.9 525.6,349.3" fill="none" stroke="#0c84d3" stroke-width="1.3" stroke-linejoin="round" stroke-linecap="round"/>
<rect x="36.9" y="310.0" width="503.30" height="57.50" fill="none" stroke="#3a3a3a" stroke-width="0.95"/>
<text x="37.20" y="383.80" text-anchor="middle" font-family="Liberation Serif, 'Times New Roman', serif" stroke="#1a1a1a" stroke-width="0.08" font-size="11.6" fill="#1a1a1a">400</text>
<line x1="99.81" y1="367.5" x2="99.81" y2="363.00" stroke="#3a3a3a" stroke-width="0.9"/>
<line x1="99.81" y1="310.0" x2="99.81" y2="314.50" stroke="#3a3a3a" stroke-width="0.9"/>
<text x="100.11" y="383.80" text-anchor="middle" font-family="Liberation Serif, 'Times New Roman', serif" stroke="#1a1a1a" stroke-width="0.08" font-size="11.6" fill="#1a1a1a">450</text>
<line x1="162.73" y1="367.5" x2="162.73" y2="363.00" stroke="#3a3a3a" stroke-width="0.9"/>
<line x1="162.73" y1="310.0" x2="162.73" y2="314.50" stroke="#3a3a3a" stroke-width="0.9"/>
<text x="163.03" y="383.80" text-anchor="middle" font-family="Liberation Serif, 'Times New Roman', serif" stroke="#1a1a1a" stroke-width="0.08" font-size="11.6" fill="#1a1a1a">500</text>
<line x1="225.64" y1="367.5" x2="225.64" y2="363.00" stroke="#3a3a3a" stroke-width="0.9"/>
<line x1="225.64" y1="310.0" x2="225.64" y2="314.50" stroke="#3a3a3a" stroke-width="0.9"/>
<text x="225.94" y="383.80" text-anchor="middle" font-family="Liberation Serif, 'Times New Roman', serif" stroke="#1a1a1a" stroke-width="0.08" font-size="11.6" fill="#1a1a1a">550</text>
<line x1="288.55" y1="367.5" x2="288.55" y2="363.00" stroke="#3a3a3a" stroke-width="0.9"/>
<line x1="288.55" y1="310.0" x2="288.55" y2="314.50" stroke="#3a3a3a" stroke-width="0.9"/>
<text x="288.85" y="383.80" text-anchor="middle" font-family="Liberation Serif, 'Times New Roman', serif" stroke="#1a1a1a" stroke-width="0.08" font-size="11.6" fill="#1a1a1a">600</text>
<line x1="351.46" y1="367.5" x2="351.46" y2="363.00" stroke="#3a3a3a" stroke-width="0.9"/>
<line x1="351.46" y1="310.0" x2="351.46" y2="314.50" stroke="#3a3a3a" stroke-width="0.9"/>
<text x="351.76" y="383.80" text-anchor="middle" font-family="Liberation Serif, 'Times New Roman', serif" stroke="#1a1a1a" stroke-width="0.08" font-size="11.6" fill="#1a1a1a">650</text>
<line x1="414.38" y1="367.5" x2="414.38" y2="363.00" stroke="#3a3a3a" stroke-width="0.9"/>
<line x1="414.38" y1="310.0" x2="414.38" y2="314.50" stroke="#3a3a3a" stroke-width="0.9"/>
<text x="414.68" y="383.80" text-anchor="middle" font-family="Liberation Serif, 'Times New Roman', serif" stroke="#1a1a1a" stroke-width="0.08" font-size="11.6" fill="#1a1a1a">700</text>
<line x1="477.29" y1="367.5" x2="477.29" y2="363.00" stroke="#3a3a3a" stroke-width="0.9"/>
<line x1="477.29" y1="310.0" x2="477.29" y2="314.50" stroke="#3a3a3a" stroke-width="0.9"/>
<text x="477.59" y="383.80" text-anchor="middle" font-family="Liberation Serif, 'Times New Roman', serif" stroke="#1a1a1a" stroke-width="0.08" font-size="11.6" fill="#1a1a1a">750</text>
<line x1="36.9" y1="363.50" x2="41.40" y2="363.50" stroke="#3a3a3a" stroke-width="0.9"/>
<line x1="540.2" y1="363.50" x2="535.70" y2="363.50" stroke="#3a3a3a" stroke-width="0.9"/>
<text x="32.50" y="366.90" text-anchor="end" font-family="Liberation Serif, 'Times New Roman', serif" stroke="#1a1a1a" stroke-width="0.08" font-size="11.6" fill="#1a1a1a">10</text>
<line x1="36.9" y1="317.50" x2="41.40" y2="317.50" stroke="#3a3a3a" stroke-width="0.9"/>
<line x1="540.2" y1="317.50" x2="535.70" y2="317.50" stroke="#3a3a3a" stroke-width="0.9"/>
<text x="32.50" y="321.40" text-anchor="end" font-family="Liberation Serif, 'Times New Roman', serif" stroke="#1a1a1a" stroke-width="0.08" font-size="11.6" fill="#1a1a1a">15</text>
<text x="288.55" y="304.20" text-anchor="middle" font-family="Liberation Serif, 'Times New Roman', serif" stroke="#1a1a1a" stroke-width="0.08" font-size="12.8" fill="#111">Filtered foot EDA</text>
</g>
<text transform="translate(14.0,196.9) rotate(-90)" text-anchor="middle" font-family="Liberation Serif, 'Times New Roman', serif" stroke="#1a1a1a" stroke-width="0.08" font-size="12.7" fill="#1a1a1a">Amplitude (a.u.)</text>
<text x="289.15" y="399.2" text-anchor="middle" font-family="Liberation Serif, 'Times New Roman', serif" stroke="#1a1a1a" stroke-width="0.08" font-size="12.9" fill="#1a1a1a">Time (seconds)</text>
</svg>
</body></html>
